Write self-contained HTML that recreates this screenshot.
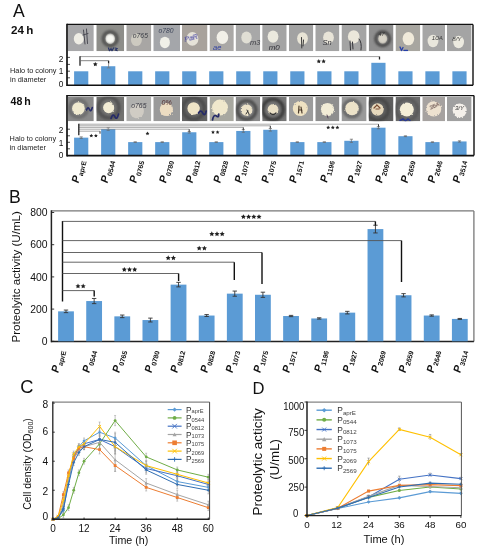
<!DOCTYPE html>
<html><head><meta charset="utf-8"><style>
html,body{margin:0;padding:0;background:#fff;}
svg{display:block;font-family:"Liberation Sans", sans-serif;will-change:transform;}
</style></head><body>
<svg xmlns="http://www.w3.org/2000/svg" width="484" height="550" viewBox="0 0 484 550">
<defs>
<filter id="gblur" x="0" y="0" width="484" height="550" filterUnits="userSpaceOnUse"><feConvolveMatrix order="3" kernelMatrix="1 2 1 2 4 2 1 2 1" divisor="16" edgeMode="duplicate"/></filter>
<filter id="blur05" x="-50%" y="-50%" width="200%" height="200%"><feGaussianBlur stdDeviation="0.35"/></filter>
<filter id="blur1" x="-50%" y="-50%" width="200%" height="200%"><feGaussianBlur stdDeviation="0.6"/></filter>
<filter id="rough" x="-50%" y="-50%" width="200%" height="200%"><feTurbulence type="fractalNoise" baseFrequency="0.7" numOctaves="1" seed="3" result="n"/><feDisplacementMap in="SourceGraphic" in2="n" scale="2.6" xChannelSelector="R" yChannelSelector="G" result="d"/><feGaussianBlur in="d" stdDeviation="0.45"/></filter>
<filter id="blur12" x="-50%" y="-50%" width="200%" height="200%"><feGaussianBlur stdDeviation="1.1"/></filter>
<filter id="blur2" x="-50%" y="-50%" width="200%" height="200%"><feGaussianBlur stdDeviation="1.6"/></filter>
</defs>
<rect width="484" height="550" fill="#fff"/>
<text x="12.90" y="16.60" font-size="17.6" text-anchor="start" font-weight="normal" font-style="normal" fill="#111" >A</text>
<text x="11.00" y="33.60" font-size="11.6" text-anchor="start" font-weight="bold" font-style="normal" fill="#111" word-spacing="-0.9">24 h</text>
<text x="10.60" y="104.90" font-size="10.6" text-anchor="start" font-weight="bold" font-style="normal" fill="#111" word-spacing="-1.0">48 h</text>
<clipPath id="ca0"><rect x="68.00" y="25.0" width="25.80" height="26.20"/></clipPath>
<g clip-path="url(#ca0)">
<rect x="68.00" y="25.00" width="25.80" height="26.20" fill="#a8a8aa" />
<ellipse cx="78.80" cy="38.70" rx="5.0" ry="5.75" fill="#eeece4" filter="url(#blur1)"/>
<path d="M83.5,30 L85,44 M86.5,29 L87.5,43.5 M83,35 L88,33.5" fill="none" stroke="#4a4a52" stroke-width="1.0" stroke-linecap="round" filter="url(#blur05)"/>
</g>
<clipPath id="ca1"><rect x="96.30" y="25.0" width="27.90" height="26.20"/></clipPath>
<g clip-path="url(#ca1)">
<rect x="96.30" y="25.00" width="27.90" height="26.20" fill="#8e8e8a" />
<ellipse cx="110.20" cy="38.70" rx="4.8" ry="5.52" fill="#f8f8f2" filter="url(#blur1)"/>
<circle cx="110.20" cy="38.70" r="7.0" fill="none" stroke="#555553" stroke-width="3.4" filter="url(#blur12)"/>
<path d="M108.5,48 L109.5,51 L111,48.5 L112,51 L113.5,48 M115,48 L117,48.5 L115.5,50 L117.5,51" fill="none" stroke="#2a3566" stroke-width="1.2" stroke-linecap="round" filter="url(#blur05)"/>
</g>
<clipPath id="ca2"><rect x="126.30" y="25.0" width="25.00" height="26.20"/></clipPath>
<g clip-path="url(#ca2)">
<rect x="126.30" y="25.00" width="25.00" height="26.20" fill="#a8a6a4" />
<ellipse cx="136.40" cy="39.80" rx="5.5" ry="6.32" fill="#cdcac0" filter="url(#blur1)"/>
<text x="132.8" y="37.5" font-size="6.8" fill="#3e4048" font-family="Liberation Sans" font-style="italic" font-weight="normal" transform="rotate(0 132.8 37.5)" filter="url(#blur05)">o765</text>
</g>
<clipPath id="ca3"><rect x="153.30" y="25.0" width="26.70" height="26.20"/></clipPath>
<g clip-path="url(#ca3)">
<rect x="153.30" y="25.00" width="26.70" height="26.20" fill="#a4a6aa" />
<ellipse cx="164.90" cy="42.40" rx="5.0" ry="5.75" fill="#f0f0e8" filter="url(#blur1)"/>
<text x="158.4" y="32.5" font-size="6.8" fill="#3c4458" font-family="Liberation Sans" font-style="italic" font-weight="normal" transform="rotate(0 158.4 32.5)" filter="url(#blur05)">o780</text>
</g>
<clipPath id="ca4"><rect x="182.00" y="25.0" width="25.50" height="26.20"/></clipPath>
<g clip-path="url(#ca4)">
<rect x="182.00" y="25.00" width="25.50" height="26.20" fill="#a8a29c" />
<ellipse cx="192.40" cy="38.90" rx="6.0" ry="6.90" fill="#e6e2d8" filter="url(#blur1)"/>
<text x="185.3" y="42.5" font-size="7.0" fill="#30309a" font-family="Liberation Sans" font-style="italic" font-weight="normal" transform="rotate(-15 185.3 42.5)" filter="url(#blur05)">PaR</text>
</g>
<clipPath id="ca5"><rect x="209.50" y="25.0" width="24.30" height="26.20"/></clipPath>
<g clip-path="url(#ca5)">
<rect x="209.50" y="25.00" width="24.30" height="26.20" fill="#aaa8a6" />
<ellipse cx="222.40" cy="37.40" rx="5.8" ry="6.67" fill="#f2f0e8" filter="url(#blur1)"/>
<text x="213" y="50.3" font-size="7.5" fill="#3040a0" font-family="Liberation Sans" font-style="italic" font-weight="normal" transform="rotate(0 213 50.3)" filter="url(#blur05)">ae</text>
</g>
<clipPath id="ca6"><rect x="235.60" y="25.0" width="24.60" height="26.20"/></clipPath>
<g clip-path="url(#ca6)">
<rect x="235.60" y="25.00" width="24.60" height="26.20" fill="#a8a8a8" />
<ellipse cx="246.50" cy="37.40" rx="5.2" ry="5.98" fill="#e0ded4" filter="url(#blur1)"/>
<text x="250" y="45" font-size="7.5" fill="#3a3a40" font-family="Liberation Sans" font-style="italic" font-weight="normal" transform="rotate(0 250 45)" filter="url(#blur05)">m3</text>
</g>
<clipPath id="ca7"><rect x="262.20" y="25.0" width="24.50" height="26.20"/></clipPath>
<g clip-path="url(#ca7)">
<rect x="262.20" y="25.00" width="24.50" height="26.20" fill="#a4a4a4" />
<ellipse cx="273.00" cy="36.60" rx="5.4" ry="6.21" fill="#ebe9de" filter="url(#blur1)"/>
<text x="268.7" y="49.8" font-size="8.0" fill="#303036" font-family="Liberation Sans" font-style="italic" font-weight="normal" transform="rotate(0 268.7 49.8)" filter="url(#blur05)">m0</text>
</g>
<clipPath id="ca8"><rect x="288.90" y="25.0" width="24.40" height="26.20"/></clipPath>
<g clip-path="url(#ca8)">
<rect x="288.90" y="25.00" width="24.40" height="26.20" fill="#a2a2a2" />
<ellipse cx="302.50" cy="38.50" rx="5.4" ry="6.21" fill="#e8e4d6" filter="url(#blur1)"/>
<path d="M301.5,37.5 L301.8,48 M303.5,40 L303,46" fill="none" stroke="#3a3a3a" stroke-width="1.0" stroke-linecap="round" filter="url(#blur05)"/>
</g>
<clipPath id="ca9"><rect x="315.30" y="25.0" width="24.10" height="26.20"/></clipPath>
<g clip-path="url(#ca9)">
<rect x="315.30" y="25.00" width="24.10" height="26.20" fill="#a4a4a4" />
<ellipse cx="328.50" cy="37.60" rx="5.4" ry="6.21" fill="#e8e4d8" filter="url(#blur1)"/>
<text x="322.5" y="45.3" font-size="7.5" fill="#333338" font-family="Liberation Sans" font-style="italic" font-weight="normal" transform="rotate(0 322.5 45.3)" filter="url(#blur05)">Sn</text>
</g>
<clipPath id="ca10"><rect x="341.50" y="25.0" width="25.10" height="26.20"/></clipPath>
<g clip-path="url(#ca10)">
<rect x="341.50" y="25.00" width="25.10" height="26.20" fill="#a4a4a4" />
<ellipse cx="353.70" cy="36.80" rx="5.8" ry="6.67" fill="#ebe7da" filter="url(#blur1)"/>
<path d="M350,41 L350.5,50 M352.5,42 L353,49 M359,39 Q362,42 361,50" fill="none" stroke="#333338" stroke-width="1.0" stroke-linecap="round" filter="url(#blur05)"/>
</g>
<clipPath id="ca11"><rect x="368.70" y="25.0" width="24.80" height="26.20"/></clipPath>
<g clip-path="url(#ca11)">
<rect x="368.70" y="25.00" width="24.80" height="26.20" fill="#8e8e8e" />
<ellipse cx="382.70" cy="38.70" rx="4.5" ry="5.17" fill="#d8d4c8" filter="url(#blur1)"/>
<circle cx="382.70" cy="38.70" r="7.0" fill="none" stroke="#4a4a4a" stroke-width="3.0" filter="url(#blur12)"/>
<text x="378.5" y="36" font-size="5.5" fill="#333" font-family="Liberation Sans" font-style="italic" font-weight="normal" transform="rotate(0 378.5 36)" filter="url(#blur05)">47</text>
</g>
<clipPath id="ca12"><rect x="395.50" y="25.0" width="24.80" height="26.20"/></clipPath>
<g clip-path="url(#ca12)">
<rect x="395.50" y="25.00" width="24.80" height="26.20" fill="#a8a6a0" />
<ellipse cx="408.40" cy="38.70" rx="5.8" ry="6.67" fill="#f0eada" filter="url(#blur1)"/>
<path d="M400,47 L401.5,50.5 L403,47.5 M404,50.5 L407.5,50.5" fill="none" stroke="#2840a8" stroke-width="1.3" stroke-linecap="round" filter="url(#blur05)"/>
</g>
<clipPath id="ca13"><rect x="422.30" y="25.0" width="22.70" height="26.20"/></clipPath>
<g clip-path="url(#ca13)">
<rect x="422.30" y="25.00" width="22.70" height="26.20" fill="#a6a6a6" />
<ellipse cx="433.00" cy="41.00" rx="5.4" ry="6.21" fill="#e8e6dc" filter="url(#blur1)"/>
<text x="431.8" y="39.5" font-size="6.2" fill="#383838" font-family="Liberation Sans" font-style="italic" font-weight="normal" transform="rotate(0 431.8 39.5)" filter="url(#blur05)">10A</text>
</g>
<clipPath id="ca14"><rect x="446.90" y="25.0" width="24.70" height="26.20"/></clipPath>
<g clip-path="url(#ca14)">
<rect x="446.90" y="25.00" width="24.70" height="26.20" fill="#a4a4a4" />
<ellipse cx="458.60" cy="42.00" rx="5.4" ry="6.21" fill="#eceae0" filter="url(#blur1)"/>
<text x="452.2" y="40.8" font-size="6.2" fill="#383838" font-family="Liberation Sans" font-style="italic" font-weight="normal" transform="rotate(0 452.2 40.8)" filter="url(#blur05)">8/Y</text>
</g>
<rect x="74.10" y="71.30" width="14.20" height="13.70" fill="#5b9bd5" />
<rect x="101.12" y="66.23" width="14.20" height="18.77" fill="#5b9bd5" />
<rect x="128.14" y="71.30" width="14.20" height="13.70" fill="#5b9bd5" />
<rect x="155.16" y="71.30" width="14.20" height="13.70" fill="#5b9bd5" />
<rect x="182.18" y="71.30" width="14.20" height="13.70" fill="#5b9bd5" />
<rect x="209.20" y="71.30" width="14.20" height="13.70" fill="#5b9bd5" />
<rect x="236.22" y="71.30" width="14.20" height="13.70" fill="#5b9bd5" />
<rect x="263.24" y="71.30" width="14.20" height="13.70" fill="#5b9bd5" />
<rect x="290.26" y="71.30" width="14.20" height="13.70" fill="#5b9bd5" />
<rect x="317.28" y="71.30" width="14.20" height="13.70" fill="#5b9bd5" />
<rect x="344.30" y="71.30" width="14.20" height="13.70" fill="#5b9bd5" />
<rect x="371.32" y="62.81" width="14.20" height="22.19" fill="#5b9bd5" />
<rect x="398.34" y="71.30" width="14.20" height="13.70" fill="#5b9bd5" />
<rect x="425.36" y="71.30" width="14.20" height="13.70" fill="#5b9bd5" />
<rect x="452.38" y="71.30" width="14.20" height="13.70" fill="#5b9bd5" />
<line x1="67.00" y1="57.40" x2="70.00" y2="57.40" stroke="#222" stroke-width="0.8"/>
<line x1="67.00" y1="64.40" x2="70.00" y2="64.40" stroke="#222" stroke-width="0.8"/>
<line x1="67.00" y1="71.20" x2="70.00" y2="71.20" stroke="#222" stroke-width="0.8"/>
<line x1="67.00" y1="77.80" x2="70.00" y2="77.80" stroke="#222" stroke-width="0.8"/>
<line x1="67.00" y1="24.40" x2="473.00" y2="24.40" stroke="#111" stroke-width="1.3"/>
<line x1="473.00" y1="24.40" x2="473.00" y2="85.30" stroke="#111" stroke-width="1.4"/>
<line x1="67.00" y1="23.80" x2="67.00" y2="86.10" stroke="#111" stroke-width="1.7"/>
<line x1="67.00" y1="85.30" x2="473.00" y2="85.30" stroke="#111" stroke-width="1.6"/>
<text x="63.30" y="61.80" font-size="8.3" text-anchor="end" font-weight="normal" font-style="normal" fill="#111" >2</text>
<text x="63.30" y="74.00" font-size="8.3" text-anchor="end" font-weight="normal" font-style="normal" fill="#111" >1</text>
<text x="63.30" y="86.60" font-size="8.3" text-anchor="end" font-weight="normal" font-style="normal" fill="#111" >0</text>
<text transform="translate(10.00,72.90) scale(0.955,1)" font-size="7.7" text-anchor="start" font-weight="normal" font-style="normal" fill="#222" >Halo to colony</text>
<text transform="translate(10.00,81.70) scale(0.955,1)" font-size="7.7" text-anchor="start" font-weight="normal" font-style="normal" fill="#222" >in diameter</text>
<line x1="80.00" y1="56.60" x2="379.50" y2="56.60" stroke="#888" stroke-width="0.8"/>
<line x1="379.50" y1="56.60" x2="379.50" y2="59.50" stroke="#222" stroke-width="1.3"/>
<line x1="80.00" y1="56.20" x2="80.00" y2="65.70" stroke="#222" stroke-width="1.3"/>
<line x1="80.00" y1="60.70" x2="108.60" y2="60.70" stroke="#666" stroke-width="0.8"/>
<line x1="108.60" y1="60.70" x2="108.60" y2="63.50" stroke="#222" stroke-width="1.3"/>
<line x1="108.60" y1="63.50" x2="108.60" y2="67.90" stroke="#777" stroke-width="0.8"/>
<line x1="106.80" y1="67.90" x2="110.40" y2="67.90" stroke="#777" stroke-width="0.7"/>
<polygon points="95.30,61.90 96.01,63.33 97.58,63.56 96.44,64.67 96.71,66.24 95.30,65.50 93.89,66.24 94.16,64.67 93.02,63.56 94.59,63.33" fill="#222"/>
<polygon points="318.80,59.10 319.48,60.47 320.99,60.69 319.89,61.76 320.15,63.26 318.80,62.55 317.45,63.26 317.71,61.76 316.61,60.69 318.12,60.47" fill="#222"/>
<polygon points="323.60,59.10 324.28,60.47 325.79,60.69 324.69,61.76 324.95,63.26 323.60,62.55 322.25,63.26 322.51,61.76 321.41,60.69 322.92,60.47" fill="#222"/>
<clipPath id="cb0"><rect x="68.00" y="96.7" width="25.80" height="24.60"/></clipPath>
<g clip-path="url(#cb0)">
<rect x="68.00" y="96.70" width="25.80" height="24.60" fill="#8a8a8a" />
<circle cx="78.40" cy="108.50" r="8.8" fill="none" stroke="#6e6e6e" stroke-width="3.6" filter="url(#blur12)"/>
<ellipse cx="78.40" cy="108.50" rx="6.3" ry="6.30" fill="#f0ead0" filter="url(#rough)"/>
<path d="M86.5,110 Q88,106 89.5,109.5 Q91,112.5 92.3,107.5" fill="none" stroke="#262c68" stroke-width="1.6" stroke-linecap="round" filter="url(#blur05)"/>
</g>
<clipPath id="cb1"><rect x="96.30" y="96.7" width="27.90" height="24.60"/></clipPath>
<g clip-path="url(#cb1)">
<rect x="96.30" y="96.70" width="27.90" height="24.60" fill="#727270" />
<circle cx="108.70" cy="107.60" r="10.3" fill="none" stroke="#525252" stroke-width="3.6" filter="url(#blur12)"/>
<ellipse cx="108.70" cy="107.60" rx="5.6" ry="5.60" fill="#f2ecd4" filter="url(#rough)"/>
<path d="M111,118.5 Q113,112.5 115,117 Q117,120.5 118.5,114" fill="none" stroke="#262c68" stroke-width="1.7" stroke-linecap="round" filter="url(#blur05)"/>
</g>
<clipPath id="cb2"><rect x="126.30" y="96.7" width="25.00" height="24.60"/></clipPath>
<g clip-path="url(#cb2)">
<rect x="126.30" y="96.70" width="25.00" height="24.60" fill="#b0b0ae" />
<ellipse cx="136.90" cy="111.30" rx="7.0" ry="7.00" fill="#d0ccc4" filter="url(#rough)"/>
<text x="131.3" y="107.5" font-size="6.8" fill="#3a3a44" font-family="Liberation Sans" font-style="italic" font-weight="normal" transform="rotate(0 131.3 107.5)" filter="url(#blur05)">o765</text>
</g>
<clipPath id="cb3"><rect x="153.30" y="96.7" width="26.70" height="24.60"/></clipPath>
<g clip-path="url(#cb3)">
<rect x="153.30" y="96.70" width="26.70" height="24.60" fill="#9a9a9a" />
<ellipse cx="166.40" cy="109.50" rx="6.6" ry="6.60" fill="#ecdcc2" filter="url(#rough)"/>
<text x="161.5" y="104.5" font-size="7" fill="#553030" font-family="Liberation Sans" font-style="italic" font-weight="normal" transform="rotate(0 161.5 104.5)" filter="url(#blur05)">0%</text>
</g>
<clipPath id="cb4"><rect x="182.00" y="96.7" width="25.50" height="24.60"/></clipPath>
<g clip-path="url(#cb4)">
<rect x="182.00" y="96.70" width="25.50" height="24.60" fill="#646464" />
<circle cx="193.60" cy="108.50" r="10.8" fill="none" stroke="#4e4e4e" stroke-width="3.6" filter="url(#blur12)"/>
<ellipse cx="193.60" cy="108.50" rx="6.2" ry="6.20" fill="#efe4c6" filter="url(#rough)"/>
<path d="M198.5,113 Q201,109 203,113.5 Q205,116.5 206.2,111" fill="none" stroke="#262c68" stroke-width="1.7" stroke-linecap="round" filter="url(#blur05)"/>
</g>
<clipPath id="cb5"><rect x="209.50" y="96.7" width="24.30" height="24.60"/></clipPath>
<g clip-path="url(#cb5)">
<rect x="209.50" y="96.70" width="24.30" height="24.60" fill="#a8a8a0" />
<ellipse cx="220.00" cy="107.60" rx="8.0" ry="8.00" fill="#f0e8cc" filter="url(#rough)"/>
<path d="M212.5,120 Q213.5,114 216.5,116 Q219,118 218.8,114" fill="none" stroke="#262c68" stroke-width="1.7" stroke-linecap="round" filter="url(#blur05)"/>
</g>
<clipPath id="cb6"><rect x="235.60" y="96.7" width="24.60" height="24.60"/></clipPath>
<g clip-path="url(#cb6)">
<rect x="235.60" y="96.70" width="24.60" height="24.60" fill="#8a8a8a" />
<circle cx="246.60" cy="110.00" r="9.3" fill="none" stroke="#505050" stroke-width="3.6" filter="url(#blur12)"/>
<ellipse cx="246.60" cy="110.00" rx="5.8" ry="5.80" fill="#ece2c8" filter="url(#rough)"/>
<path d="M247,110 L249,114 M248,111 L246,114" fill="none" stroke="#333" stroke-width="1.0" stroke-linecap="round" filter="url(#blur05)"/>
</g>
<clipPath id="cb7"><rect x="262.20" y="96.7" width="24.50" height="24.60"/></clipPath>
<g clip-path="url(#cb7)">
<rect x="262.20" y="96.70" width="24.50" height="24.60" fill="#767676" />
<circle cx="273.00" cy="109.50" r="10.3" fill="none" stroke="#3e3e3e" stroke-width="3.6" filter="url(#blur12)"/>
<ellipse cx="273.00" cy="109.50" rx="5.4" ry="5.40" fill="#eae0c6" filter="url(#rough)"/>
<path d="M270,113 Q273,116 276,113" fill="none" stroke="#333" stroke-width="1.2" stroke-linecap="round" filter="url(#blur05)"/>
</g>
<clipPath id="cb8"><rect x="288.90" y="96.7" width="24.40" height="24.60"/></clipPath>
<g clip-path="url(#cb8)">
<rect x="288.90" y="96.70" width="24.40" height="24.60" fill="#9c9c9c" />
<ellipse cx="300.30" cy="108.50" rx="7.5" ry="7.50" fill="#efe2c2" filter="url(#rough)"/>
<path d="M299,106 L298.5,113 M301,107 L302,113 M299,110 L302,110" fill="none" stroke="#4a3a2a" stroke-width="1.2" stroke-linecap="round" filter="url(#blur05)"/>
</g>
<clipPath id="cb9"><rect x="315.30" y="96.7" width="24.10" height="24.60"/></clipPath>
<g clip-path="url(#cb9)">
<rect x="315.30" y="96.70" width="24.10" height="24.60" fill="#8e8e8e" />
<ellipse cx="327.50" cy="109.50" rx="6.6" ry="6.60" fill="#f2ecd6" filter="url(#rough)"/>
<path d="M327,115 L328,118" fill="none" stroke="#5a4a5a" stroke-width="1.0" stroke-linecap="round" filter="url(#blur05)"/>
</g>
<clipPath id="cb10"><rect x="341.50" y="96.7" width="25.10" height="24.60"/></clipPath>
<g clip-path="url(#cb10)">
<rect x="341.50" y="96.70" width="25.10" height="24.60" fill="#9a9a9a" />
<circle cx="352.00" cy="108.50" r="8.3" fill="none" stroke="#6a6a6a" stroke-width="3.6" filter="url(#blur12)"/>
<ellipse cx="352.00" cy="108.50" rx="6.8" ry="6.80" fill="#ece2c8" filter="url(#rough)"/>
<path d="M350,113 L354,113" fill="none" stroke="#555" stroke-width="1.0" stroke-linecap="round" filter="url(#blur05)"/>
</g>
<clipPath id="cb11"><rect x="368.70" y="96.7" width="24.80" height="24.60"/></clipPath>
<g clip-path="url(#cb11)">
<rect x="368.70" y="96.70" width="24.80" height="24.60" fill="#5e5e5e" />
<circle cx="377.50" cy="109.50" r="10.8" fill="none" stroke="#484848" stroke-width="3.6" filter="url(#blur12)"/>
<ellipse cx="377.50" cy="109.50" rx="6.2" ry="6.20" fill="#e6d8bc" filter="url(#rough)"/>
<path d="M374,108 L377,105 L380,108 M376,109 L379,109" fill="none" stroke="#7a4a30" stroke-width="1.2" stroke-linecap="round" filter="url(#blur05)"/>
</g>
<clipPath id="cb12"><rect x="395.50" y="96.7" width="24.80" height="24.60"/></clipPath>
<g clip-path="url(#cb12)">
<rect x="395.50" y="96.70" width="24.80" height="24.60" fill="#6c6c6c" />
<circle cx="406.80" cy="109.60" r="10.8" fill="none" stroke="#5a5a5a" stroke-width="3.6" filter="url(#blur12)"/>
<ellipse cx="406.80" cy="109.60" rx="7.0" ry="7.00" fill="#f4eed8" filter="url(#rough)"/>
<path d="M400,120.5 L403,119 L405.5,121 L408,119 L410,120.5" fill="none" stroke="#2a3a90" stroke-width="1.5" stroke-linecap="round" filter="url(#blur05)"/>
</g>
<clipPath id="cb13"><rect x="422.30" y="96.7" width="22.70" height="24.60"/></clipPath>
<g clip-path="url(#cb13)">
<rect x="422.30" y="96.70" width="22.70" height="24.60" fill="#a6a2a0" />
<ellipse cx="433.70" cy="108.80" rx="7.6" ry="7.60" fill="#eee2d0" filter="url(#rough)"/>
<text x="430.2" y="109.5" font-size="6.0" fill="#4a3030" font-family="Liberation Sans" font-style="italic" font-weight="normal" transform="rotate(-25 430.2 109.5)" filter="url(#blur05)">36A</text>
</g>
<clipPath id="cb14"><rect x="446.90" y="96.7" width="24.70" height="24.60"/></clipPath>
<g clip-path="url(#cb14)">
<rect x="446.90" y="96.70" width="24.70" height="24.60" fill="#a0a0a0" />
<ellipse cx="459.70" cy="110.50" rx="7.0" ry="7.00" fill="#f4f0ea" filter="url(#rough)"/>
<text x="455" y="109.5" font-size="6.0" fill="#383838" font-family="Liberation Sans" font-style="italic" font-weight="normal" transform="rotate(0 455 109.5)" filter="url(#blur05)">3/Y</text>
</g>
<rect x="74.10" y="137.65" width="14.20" height="17.55" fill="#5b9bd5" />
<line x1="81.20" y1="136.86" x2="81.20" y2="138.43" stroke="#666" stroke-width="0.7"/>
<line x1="79.60" y1="136.86" x2="82.80" y2="136.86" stroke="#666" stroke-width="0.7"/>
<line x1="79.60" y1="138.43" x2="82.80" y2="138.43" stroke="#666" stroke-width="0.7"/>
<rect x="101.12" y="129.00" width="14.20" height="26.20" fill="#5b9bd5" />
<line x1="108.22" y1="127.69" x2="108.22" y2="130.31" stroke="#666" stroke-width="0.7"/>
<line x1="106.62" y1="127.69" x2="109.82" y2="127.69" stroke="#666" stroke-width="0.7"/>
<line x1="106.62" y1="130.31" x2="109.82" y2="130.31" stroke="#666" stroke-width="0.7"/>
<rect x="128.14" y="142.10" width="14.20" height="13.10" fill="#5b9bd5" />
<line x1="135.24" y1="141.84" x2="135.24" y2="142.36" stroke="#666" stroke-width="0.7"/>
<line x1="133.64" y1="141.84" x2="136.84" y2="141.84" stroke="#666" stroke-width="0.7"/>
<line x1="133.64" y1="142.36" x2="136.84" y2="142.36" stroke="#666" stroke-width="0.7"/>
<rect x="155.16" y="142.10" width="14.20" height="13.10" fill="#5b9bd5" />
<line x1="162.26" y1="141.84" x2="162.26" y2="142.36" stroke="#666" stroke-width="0.7"/>
<line x1="160.66" y1="141.84" x2="163.86" y2="141.84" stroke="#666" stroke-width="0.7"/>
<line x1="160.66" y1="142.36" x2="163.86" y2="142.36" stroke="#666" stroke-width="0.7"/>
<rect x="182.18" y="132.27" width="14.20" height="22.93" fill="#5b9bd5" />
<line x1="189.28" y1="131.49" x2="189.28" y2="133.06" stroke="#666" stroke-width="0.7"/>
<line x1="187.68" y1="131.49" x2="190.88" y2="131.49" stroke="#666" stroke-width="0.7"/>
<line x1="187.68" y1="133.06" x2="190.88" y2="133.06" stroke="#666" stroke-width="0.7"/>
<rect x="209.20" y="142.10" width="14.20" height="13.10" fill="#5b9bd5" />
<line x1="216.30" y1="141.84" x2="216.30" y2="142.36" stroke="#666" stroke-width="0.7"/>
<line x1="214.70" y1="141.84" x2="217.90" y2="141.84" stroke="#666" stroke-width="0.7"/>
<line x1="214.70" y1="142.36" x2="217.90" y2="142.36" stroke="#666" stroke-width="0.7"/>
<rect x="236.22" y="130.96" width="14.20" height="24.23" fill="#5b9bd5" />
<line x1="243.32" y1="129.65" x2="243.32" y2="132.27" stroke="#666" stroke-width="0.7"/>
<line x1="241.72" y1="129.65" x2="244.92" y2="129.65" stroke="#666" stroke-width="0.7"/>
<line x1="241.72" y1="132.27" x2="244.92" y2="132.27" stroke="#666" stroke-width="0.7"/>
<rect x="263.24" y="129.79" width="14.20" height="25.41" fill="#5b9bd5" />
<line x1="270.34" y1="128.48" x2="270.34" y2="131.10" stroke="#666" stroke-width="0.7"/>
<line x1="268.74" y1="128.48" x2="271.94" y2="128.48" stroke="#666" stroke-width="0.7"/>
<line x1="268.74" y1="131.10" x2="271.94" y2="131.10" stroke="#666" stroke-width="0.7"/>
<rect x="290.26" y="142.10" width="14.20" height="13.10" fill="#5b9bd5" />
<line x1="297.36" y1="141.84" x2="297.36" y2="142.36" stroke="#666" stroke-width="0.7"/>
<line x1="295.76" y1="141.84" x2="298.96" y2="141.84" stroke="#666" stroke-width="0.7"/>
<line x1="295.76" y1="142.36" x2="298.96" y2="142.36" stroke="#666" stroke-width="0.7"/>
<rect x="317.28" y="142.10" width="14.20" height="13.10" fill="#5b9bd5" />
<line x1="324.38" y1="141.84" x2="324.38" y2="142.36" stroke="#666" stroke-width="0.7"/>
<line x1="322.78" y1="141.84" x2="325.98" y2="141.84" stroke="#666" stroke-width="0.7"/>
<line x1="322.78" y1="142.36" x2="325.98" y2="142.36" stroke="#666" stroke-width="0.7"/>
<rect x="344.30" y="140.79" width="14.20" height="14.41" fill="#5b9bd5" />
<line x1="351.40" y1="139.22" x2="351.40" y2="142.36" stroke="#666" stroke-width="0.7"/>
<line x1="349.80" y1="139.22" x2="353.00" y2="139.22" stroke="#666" stroke-width="0.7"/>
<line x1="349.80" y1="142.36" x2="353.00" y2="142.36" stroke="#666" stroke-width="0.7"/>
<rect x="371.32" y="127.69" width="14.20" height="27.51" fill="#5b9bd5" />
<line x1="378.42" y1="126.64" x2="378.42" y2="128.74" stroke="#666" stroke-width="0.7"/>
<line x1="376.82" y1="126.64" x2="380.02" y2="126.64" stroke="#666" stroke-width="0.7"/>
<line x1="376.82" y1="128.74" x2="380.02" y2="128.74" stroke="#666" stroke-width="0.7"/>
<rect x="398.34" y="136.20" width="14.20" height="18.99" fill="#5b9bd5" />
<line x1="405.44" y1="135.81" x2="405.44" y2="136.60" stroke="#666" stroke-width="0.7"/>
<line x1="403.84" y1="135.81" x2="407.04" y2="135.81" stroke="#666" stroke-width="0.7"/>
<line x1="403.84" y1="136.60" x2="407.04" y2="136.60" stroke="#666" stroke-width="0.7"/>
<rect x="425.36" y="142.10" width="14.20" height="13.10" fill="#5b9bd5" />
<line x1="432.46" y1="141.84" x2="432.46" y2="142.36" stroke="#666" stroke-width="0.7"/>
<line x1="430.86" y1="141.84" x2="434.06" y2="141.84" stroke="#666" stroke-width="0.7"/>
<line x1="430.86" y1="142.36" x2="434.06" y2="142.36" stroke="#666" stroke-width="0.7"/>
<rect x="452.38" y="141.44" width="14.20" height="13.76" fill="#5b9bd5" />
<line x1="459.48" y1="140.79" x2="459.48" y2="142.10" stroke="#666" stroke-width="0.7"/>
<line x1="457.88" y1="140.79" x2="461.08" y2="140.79" stroke="#666" stroke-width="0.7"/>
<line x1="457.88" y1="142.10" x2="461.08" y2="142.10" stroke="#666" stroke-width="0.7"/>
<line x1="67.00" y1="129.20" x2="70.00" y2="129.20" stroke="#222" stroke-width="0.8"/>
<line x1="67.00" y1="135.80" x2="70.00" y2="135.80" stroke="#222" stroke-width="0.8"/>
<line x1="67.00" y1="142.30" x2="70.00" y2="142.30" stroke="#222" stroke-width="0.8"/>
<line x1="67.00" y1="148.80" x2="70.00" y2="148.80" stroke="#222" stroke-width="0.8"/>
<line x1="67.00" y1="95.60" x2="474.00" y2="95.60" stroke="#111" stroke-width="1.3"/>
<line x1="474.00" y1="95.60" x2="474.00" y2="155.60" stroke="#111" stroke-width="1.4"/>
<line x1="67.00" y1="95.00" x2="67.00" y2="156.40" stroke="#111" stroke-width="1.7"/>
<line x1="67.00" y1="155.60" x2="474.00" y2="155.60" stroke="#111" stroke-width="1.6"/>
<text x="63.30" y="132.60" font-size="8.3" text-anchor="end" font-weight="normal" font-style="normal" fill="#111" >2</text>
<text x="63.30" y="145.60" font-size="8.3" text-anchor="end" font-weight="normal" font-style="normal" fill="#111" >1</text>
<text x="63.30" y="157.70" font-size="8.3" text-anchor="end" font-weight="normal" font-style="normal" fill="#111" >0</text>
<text transform="translate(9.60,141.30) scale(0.955,1)" font-size="7.7" text-anchor="start" font-weight="normal" font-style="normal" fill="#222" >Halo to colony</text>
<text transform="translate(9.60,150.30) scale(0.955,1)" font-size="7.7" text-anchor="start" font-weight="normal" font-style="normal" fill="#222" >in diameter</text>
<line x1="78.80" y1="124.20" x2="378.50" y2="124.20" stroke="#888" stroke-width="0.7"/>
<line x1="378.50" y1="124.20" x2="378.50" y2="126.70" stroke="#333" stroke-width="1.0"/>
<line x1="78.80" y1="125.80" x2="270.30" y2="125.80" stroke="#888" stroke-width="0.7"/>
<line x1="270.30" y1="125.80" x2="270.30" y2="128.30" stroke="#333" stroke-width="1.0"/>
<line x1="78.80" y1="127.40" x2="243.30" y2="127.40" stroke="#888" stroke-width="0.7"/>
<line x1="243.30" y1="127.40" x2="243.30" y2="129.90" stroke="#333" stroke-width="1.0"/>
<line x1="78.80" y1="129.20" x2="189.20" y2="129.20" stroke="#888" stroke-width="0.7"/>
<line x1="189.20" y1="129.20" x2="189.20" y2="131.70" stroke="#333" stroke-width="1.0"/>
<line x1="78.80" y1="131.20" x2="100.00" y2="131.20" stroke="#888" stroke-width="0.7"/>
<line x1="100.00" y1="131.20" x2="100.00" y2="133.70" stroke="#333" stroke-width="1.0"/>
<line x1="78.80" y1="123.80" x2="78.80" y2="135.20" stroke="#222" stroke-width="1.3"/>
<polygon points="91.30,133.70 91.89,134.89 93.20,135.08 92.25,136.01 92.48,137.32 91.30,136.70 90.12,137.32 90.35,136.01 89.40,135.08 90.71,134.89" fill="#222"/>
<polygon points="95.90,133.70 96.49,134.89 97.80,135.08 96.85,136.01 97.08,137.32 95.90,136.70 94.72,137.32 94.95,136.01 94.00,135.08 95.31,134.89" fill="#222"/>
<polygon points="147.50,131.60 148.09,132.79 149.40,132.98 148.45,133.91 148.68,135.22 147.50,134.60 146.32,135.22 146.55,133.91 145.60,132.98 146.91,132.79" fill="#222"/>
<polygon points="213.00,130.20 213.59,131.39 214.90,131.58 213.95,132.51 214.18,133.82 213.00,133.20 211.82,133.82 212.05,132.51 211.10,131.58 212.41,131.39" fill="#222"/>
<polygon points="217.60,130.20 218.19,131.39 219.50,131.58 218.55,132.51 218.78,133.82 217.60,133.20 216.42,133.82 216.65,132.51 215.70,131.58 217.01,131.39" fill="#222"/>
<polygon points="328.20,125.60 328.79,126.79 330.10,126.98 329.15,127.91 329.38,129.22 328.20,128.60 327.02,129.22 327.25,127.91 326.30,126.98 327.61,126.79" fill="#222"/>
<polygon points="332.80,125.60 333.39,126.79 334.70,126.98 333.75,127.91 333.98,129.22 332.80,128.60 331.62,129.22 331.85,127.91 330.90,126.98 332.21,126.79" fill="#222"/>
<polygon points="337.40,125.60 337.99,126.79 339.30,126.98 338.35,127.91 338.58,129.22 337.40,128.60 336.22,129.22 336.45,127.91 335.50,126.98 336.81,126.79" fill="#222"/>
<text transform="translate(84.00,161.00) rotate(-76)" font-size="10.8" font-weight="bold" font-style="italic" fill="#111" text-anchor="end" dx="0">P<tspan font-size="6.9" dy="2.6" dx="0.6" font-weight="bold" font-style="normal">aprE</tspan></text>
<text transform="translate(113.00,161.00) rotate(-76)" font-size="10.8" font-weight="bold" font-style="italic" fill="#111" text-anchor="end" dx="0">P<tspan font-size="6.9" dy="2.6" dx="0.6" font-weight="bold" font-style="normal">0544</tspan></text>
<text transform="translate(141.90,161.00) rotate(-76)" font-size="10.8" font-weight="bold" font-style="italic" fill="#111" text-anchor="end" dx="0">P<tspan font-size="6.9" dy="2.6" dx="0.6" font-weight="bold" font-style="normal">0765</tspan></text>
<text transform="translate(171.70,161.00) rotate(-76)" font-size="10.8" font-weight="bold" font-style="italic" fill="#111" text-anchor="end" dx="0">P<tspan font-size="6.9" dy="2.6" dx="0.6" font-weight="bold" font-style="normal">0780</tspan></text>
<text transform="translate(198.00,161.00) rotate(-76)" font-size="10.8" font-weight="bold" font-style="italic" fill="#111" text-anchor="end" dx="0">P<tspan font-size="6.9" dy="2.6" dx="0.6" font-weight="bold" font-style="normal">0812</tspan></text>
<text transform="translate(225.80,161.00) rotate(-76)" font-size="10.8" font-weight="bold" font-style="italic" fill="#111" text-anchor="end" dx="0">P<tspan font-size="6.9" dy="2.6" dx="0.6" font-weight="bold" font-style="normal">0828</tspan></text>
<text transform="translate(247.00,161.00) rotate(-76)" font-size="10.8" font-weight="bold" font-style="italic" fill="#111" text-anchor="end" dx="0">P<tspan font-size="6.9" dy="2.6" dx="0.6" font-weight="bold" font-style="normal">1073</tspan></text>
<text transform="translate(273.80,161.00) rotate(-76)" font-size="10.8" font-weight="bold" font-style="italic" fill="#111" text-anchor="end" dx="0">P<tspan font-size="6.9" dy="2.6" dx="0.6" font-weight="bold" font-style="normal">1075</tspan></text>
<text transform="translate(301.70,161.00) rotate(-76)" font-size="10.8" font-weight="bold" font-style="italic" fill="#111" text-anchor="end" dx="0">P<tspan font-size="6.9" dy="2.6" dx="0.6" font-weight="bold" font-style="normal">1571</tspan></text>
<text transform="translate(332.40,161.00) rotate(-76)" font-size="10.8" font-weight="bold" font-style="italic" fill="#111" text-anchor="end" dx="0">P<tspan font-size="6.9" dy="2.6" dx="0.6" font-weight="bold" font-style="normal">1196</tspan></text>
<text transform="translate(360.00,161.00) rotate(-76)" font-size="10.8" font-weight="bold" font-style="italic" fill="#111" text-anchor="end" dx="0">P<tspan font-size="6.9" dy="2.6" dx="0.6" font-weight="bold" font-style="normal">1927</tspan></text>
<text transform="translate(387.50,161.00) rotate(-76)" font-size="10.8" font-weight="bold" font-style="italic" fill="#111" text-anchor="end" dx="0">P<tspan font-size="6.9" dy="2.6" dx="0.6" font-weight="bold" font-style="normal">2069</tspan></text>
<text transform="translate(413.20,161.00) rotate(-76)" font-size="10.8" font-weight="bold" font-style="italic" fill="#111" text-anchor="end" dx="0">P<tspan font-size="6.9" dy="2.6" dx="0.6" font-weight="bold" font-style="normal">2659</tspan></text>
<text transform="translate(440.20,161.00) rotate(-76)" font-size="10.8" font-weight="bold" font-style="italic" fill="#111" text-anchor="end" dx="0">P<tspan font-size="6.9" dy="2.6" dx="0.6" font-weight="bold" font-style="normal">2646</tspan></text>
<text transform="translate(465.00,161.00) rotate(-76)" font-size="10.8" font-weight="bold" font-style="italic" fill="#111" text-anchor="end" dx="0">P<tspan font-size="6.9" dy="2.6" dx="0.6" font-weight="bold" font-style="normal">3514</tspan></text>
<text x="8.90" y="202.80" font-size="17.6" text-anchor="start" font-weight="normal" font-style="normal" fill="#111" >B</text>
<line x1="51.40" y1="210.90" x2="473.90" y2="210.90" stroke="#777" stroke-width="1.2"/>
<line x1="473.90" y1="210.90" x2="473.90" y2="341.50" stroke="#777" stroke-width="1.3"/>
<line x1="51.40" y1="210.30" x2="51.40" y2="342.30" stroke="#222" stroke-width="1.5"/>
<line x1="51.40" y1="341.50" x2="473.90" y2="341.50" stroke="#222" stroke-width="1.5"/>
<line x1="51.40" y1="341.30" x2="54.20" y2="341.30" stroke="#222" stroke-width="0.9"/>
<text x="47.60" y="345.00" font-size="10.4" text-anchor="end" font-weight="normal" font-style="normal" fill="#111" >0</text>
<line x1="51.40" y1="309.10" x2="54.20" y2="309.10" stroke="#222" stroke-width="0.9"/>
<text x="47.60" y="312.80" font-size="10.4" text-anchor="end" font-weight="normal" font-style="normal" fill="#111" >200</text>
<line x1="51.40" y1="276.90" x2="54.20" y2="276.90" stroke="#222" stroke-width="0.9"/>
<text x="47.60" y="280.60" font-size="10.4" text-anchor="end" font-weight="normal" font-style="normal" fill="#111" >400</text>
<line x1="51.40" y1="244.70" x2="54.20" y2="244.70" stroke="#222" stroke-width="0.9"/>
<text x="47.60" y="248.40" font-size="10.4" text-anchor="end" font-weight="normal" font-style="normal" fill="#111" >600</text>
<line x1="51.40" y1="212.50" x2="54.20" y2="212.50" stroke="#222" stroke-width="0.9"/>
<text x="47.60" y="216.20" font-size="10.4" text-anchor="end" font-weight="normal" font-style="normal" fill="#111" >800</text>
<text transform="translate(20.0,276.8) rotate(-90)" font-size="11.6" text-anchor="middle" fill="#111">Proteolyitc activity (U/mL)</text>
<rect x="58.10" y="311.35" width="15.80" height="29.95" fill="#5b9bd5" />
<line x1="66.00" y1="310.07" x2="66.00" y2="312.64" stroke="#333" stroke-width="0.9"/>
<line x1="63.80" y1="310.07" x2="68.20" y2="310.07" stroke="#333" stroke-width="0.9"/>
<line x1="63.80" y1="312.64" x2="68.20" y2="312.64" stroke="#333" stroke-width="0.9"/>
<rect x="86.23" y="301.05" width="15.80" height="40.25" fill="#5b9bd5" />
<line x1="94.13" y1="298.47" x2="94.13" y2="303.63" stroke="#333" stroke-width="0.9"/>
<line x1="91.93" y1="298.47" x2="96.33" y2="298.47" stroke="#333" stroke-width="0.9"/>
<line x1="91.93" y1="303.63" x2="96.33" y2="303.63" stroke="#333" stroke-width="0.9"/>
<rect x="114.36" y="316.35" width="15.80" height="24.96" fill="#5b9bd5" />
<line x1="122.26" y1="315.06" x2="122.26" y2="317.63" stroke="#333" stroke-width="0.9"/>
<line x1="120.06" y1="315.06" x2="124.46" y2="315.06" stroke="#333" stroke-width="0.9"/>
<line x1="120.06" y1="317.63" x2="124.46" y2="317.63" stroke="#333" stroke-width="0.9"/>
<rect x="142.49" y="320.05" width="15.80" height="21.25" fill="#5b9bd5" />
<line x1="150.39" y1="318.12" x2="150.39" y2="321.98" stroke="#333" stroke-width="0.9"/>
<line x1="148.19" y1="318.12" x2="152.59" y2="318.12" stroke="#333" stroke-width="0.9"/>
<line x1="148.19" y1="321.98" x2="152.59" y2="321.98" stroke="#333" stroke-width="0.9"/>
<rect x="170.62" y="284.63" width="15.80" height="56.67" fill="#5b9bd5" />
<line x1="178.52" y1="282.37" x2="178.52" y2="286.88" stroke="#333" stroke-width="0.9"/>
<line x1="176.32" y1="282.37" x2="180.72" y2="282.37" stroke="#333" stroke-width="0.9"/>
<line x1="176.32" y1="286.88" x2="180.72" y2="286.88" stroke="#333" stroke-width="0.9"/>
<rect x="198.75" y="315.54" width="15.80" height="25.76" fill="#5b9bd5" />
<line x1="206.65" y1="314.57" x2="206.65" y2="316.51" stroke="#333" stroke-width="0.9"/>
<line x1="204.45" y1="314.57" x2="208.85" y2="314.57" stroke="#333" stroke-width="0.9"/>
<line x1="204.45" y1="316.51" x2="208.85" y2="316.51" stroke="#333" stroke-width="0.9"/>
<rect x="226.88" y="293.64" width="15.80" height="47.66" fill="#5b9bd5" />
<line x1="234.78" y1="291.07" x2="234.78" y2="296.22" stroke="#333" stroke-width="0.9"/>
<line x1="232.58" y1="291.07" x2="236.98" y2="291.07" stroke="#333" stroke-width="0.9"/>
<line x1="232.58" y1="296.22" x2="236.98" y2="296.22" stroke="#333" stroke-width="0.9"/>
<rect x="255.01" y="294.77" width="15.80" height="46.53" fill="#5b9bd5" />
<line x1="262.91" y1="292.19" x2="262.91" y2="297.35" stroke="#333" stroke-width="0.9"/>
<line x1="260.71" y1="292.19" x2="265.11" y2="292.19" stroke="#333" stroke-width="0.9"/>
<line x1="260.71" y1="297.35" x2="265.11" y2="297.35" stroke="#333" stroke-width="0.9"/>
<rect x="283.14" y="316.02" width="15.80" height="25.28" fill="#5b9bd5" />
<line x1="291.04" y1="315.38" x2="291.04" y2="316.67" stroke="#333" stroke-width="0.9"/>
<line x1="288.84" y1="315.38" x2="293.24" y2="315.38" stroke="#333" stroke-width="0.9"/>
<line x1="288.84" y1="316.67" x2="293.24" y2="316.67" stroke="#333" stroke-width="0.9"/>
<rect x="311.27" y="318.44" width="15.80" height="22.86" fill="#5b9bd5" />
<line x1="319.17" y1="317.79" x2="319.17" y2="319.08" stroke="#333" stroke-width="0.9"/>
<line x1="316.97" y1="317.79" x2="321.37" y2="317.79" stroke="#333" stroke-width="0.9"/>
<line x1="316.97" y1="319.08" x2="321.37" y2="319.08" stroke="#333" stroke-width="0.9"/>
<rect x="339.40" y="312.64" width="15.80" height="28.66" fill="#5b9bd5" />
<line x1="347.30" y1="311.35" x2="347.30" y2="313.93" stroke="#333" stroke-width="0.9"/>
<line x1="345.10" y1="311.35" x2="349.50" y2="311.35" stroke="#333" stroke-width="0.9"/>
<line x1="345.10" y1="313.93" x2="349.50" y2="313.93" stroke="#333" stroke-width="0.9"/>
<rect x="367.53" y="229.08" width="15.80" height="112.22" fill="#5b9bd5" />
<line x1="375.43" y1="225.22" x2="375.43" y2="232.95" stroke="#333" stroke-width="0.9"/>
<line x1="373.23" y1="225.22" x2="377.63" y2="225.22" stroke="#333" stroke-width="0.9"/>
<line x1="373.23" y1="232.95" x2="377.63" y2="232.95" stroke="#333" stroke-width="0.9"/>
<rect x="395.66" y="295.25" width="15.80" height="46.05" fill="#5b9bd5" />
<line x1="403.56" y1="293.64" x2="403.56" y2="296.86" stroke="#333" stroke-width="0.9"/>
<line x1="401.36" y1="293.64" x2="405.76" y2="293.64" stroke="#333" stroke-width="0.9"/>
<line x1="401.36" y1="296.86" x2="405.76" y2="296.86" stroke="#333" stroke-width="0.9"/>
<rect x="423.79" y="315.54" width="15.80" height="25.76" fill="#5b9bd5" />
<line x1="431.69" y1="314.90" x2="431.69" y2="316.18" stroke="#333" stroke-width="0.9"/>
<line x1="429.49" y1="314.90" x2="433.89" y2="314.90" stroke="#333" stroke-width="0.9"/>
<line x1="429.49" y1="316.18" x2="433.89" y2="316.18" stroke="#333" stroke-width="0.9"/>
<rect x="451.92" y="318.92" width="15.80" height="22.38" fill="#5b9bd5" />
<line x1="459.82" y1="318.44" x2="459.82" y2="319.40" stroke="#333" stroke-width="0.9"/>
<line x1="457.62" y1="318.44" x2="462.02" y2="318.44" stroke="#333" stroke-width="0.9"/>
<line x1="457.62" y1="319.40" x2="462.02" y2="319.40" stroke="#333" stroke-width="0.9"/>
<line x1="62.50" y1="221.00" x2="62.50" y2="301.50" stroke="#111" stroke-width="1.4"/>
<line x1="62.50" y1="221.40" x2="375.40" y2="221.40" stroke="#555" stroke-width="0.9"/>
<line x1="375.40" y1="221.40" x2="375.40" y2="225.50" stroke="#111" stroke-width="1.4"/>
<line x1="62.50" y1="240.60" x2="401.50" y2="240.60" stroke="#555" stroke-width="0.9"/>
<line x1="401.50" y1="240.60" x2="401.50" y2="282.00" stroke="#111" stroke-width="1.4"/>
<line x1="62.50" y1="252.50" x2="262.00" y2="252.50" stroke="#555" stroke-width="0.9"/>
<line x1="262.00" y1="252.50" x2="262.00" y2="284.00" stroke="#111" stroke-width="1.4"/>
<line x1="62.50" y1="262.20" x2="234.30" y2="262.20" stroke="#555" stroke-width="0.9"/>
<line x1="234.30" y1="262.20" x2="234.30" y2="280.00" stroke="#111" stroke-width="1.4"/>
<line x1="62.50" y1="273.50" x2="178.60" y2="273.50" stroke="#555" stroke-width="0.9"/>
<line x1="178.60" y1="273.50" x2="178.60" y2="281.00" stroke="#111" stroke-width="1.4"/>
<line x1="62.50" y1="290.60" x2="94.20" y2="290.60" stroke="#555" stroke-width="0.9"/>
<line x1="94.20" y1="290.60" x2="94.20" y2="296.50" stroke="#111" stroke-width="1.4"/>
<polygon points="78.00,283.55 78.78,285.13 80.52,285.38 79.26,286.61 79.56,288.34 78.00,287.52 76.44,288.34 76.74,286.61 75.48,285.38 77.22,285.13" fill="#222"/>
<polygon points="83.20,283.55 83.98,285.13 85.72,285.38 84.46,286.61 84.76,288.34 83.20,287.52 81.64,288.34 81.94,286.61 80.68,285.38 82.42,285.13" fill="#222"/>
<polygon points="124.30,266.95 125.08,268.53 126.82,268.78 125.56,270.01 125.86,271.74 124.30,270.93 122.74,271.74 123.04,270.01 121.78,268.78 123.52,268.53" fill="#222"/>
<polygon points="129.50,266.95 130.28,268.53 132.02,268.78 130.76,270.01 131.06,271.74 129.50,270.93 127.94,271.74 128.24,270.01 126.98,268.78 128.72,268.53" fill="#222"/>
<polygon points="134.70,266.95 135.48,268.53 137.22,268.78 135.96,270.01 136.26,271.74 134.70,270.93 133.14,271.74 133.44,270.01 132.18,268.78 133.92,268.53" fill="#222"/>
<polygon points="168.20,255.35 168.98,256.93 170.72,257.18 169.46,258.41 169.76,260.14 168.20,259.32 166.64,260.14 166.94,258.41 165.68,257.18 167.42,256.93" fill="#222"/>
<polygon points="173.40,255.35 174.18,256.93 175.92,257.18 174.66,258.41 174.96,260.14 173.40,259.32 171.84,260.14 172.14,258.41 170.88,257.18 172.62,256.93" fill="#222"/>
<polygon points="199.20,245.65 199.98,247.23 201.72,247.48 200.46,248.71 200.76,250.44 199.20,249.62 197.64,250.44 197.94,248.71 196.68,247.48 198.42,247.23" fill="#222"/>
<polygon points="204.40,245.65 205.18,247.23 206.92,247.48 205.66,248.71 205.96,250.44 204.40,249.62 202.84,250.44 203.14,248.71 201.88,247.48 203.62,247.23" fill="#222"/>
<polygon points="211.80,231.35 212.58,232.93 214.32,233.18 213.06,234.41 213.36,236.14 211.80,235.32 210.24,236.14 210.54,234.41 209.28,233.18 211.02,232.93" fill="#222"/>
<polygon points="217.00,231.35 217.78,232.93 219.52,233.18 218.26,234.41 218.56,236.14 217.00,235.32 215.44,236.14 215.74,234.41 214.48,233.18 216.22,232.93" fill="#222"/>
<polygon points="222.20,231.35 222.98,232.93 224.72,233.18 223.46,234.41 223.76,236.14 222.20,235.32 220.64,236.14 220.94,234.41 219.68,233.18 221.42,232.93" fill="#222"/>
<polygon points="243.40,214.15 244.18,215.73 245.92,215.98 244.66,217.21 244.96,218.94 243.40,218.12 241.84,218.94 242.14,217.21 240.88,215.98 242.62,215.73" fill="#222"/>
<polygon points="248.60,214.15 249.38,215.73 251.12,215.98 249.86,217.21 250.16,218.94 248.60,218.12 247.04,218.94 247.34,217.21 246.08,215.98 247.82,215.73" fill="#222"/>
<polygon points="253.80,214.15 254.58,215.73 256.32,215.98 255.06,217.21 255.36,218.94 253.80,218.12 252.24,218.94 252.54,217.21 251.28,215.98 253.02,215.73" fill="#222"/>
<polygon points="259.00,214.15 259.78,215.73 261.52,215.98 260.26,217.21 260.56,218.94 259.00,218.12 257.44,218.94 257.74,217.21 256.48,215.98 258.22,215.73" fill="#222"/>
<text transform="translate(63.80,350.80) rotate(-76)" font-size="10.8" font-weight="bold" font-style="italic" fill="#111" text-anchor="end" dx="0">P<tspan font-size="6.9" dy="2.6" dx="0.6" font-weight="bold" font-style="normal">aprE</tspan></text>
<text transform="translate(94.80,350.80) rotate(-76)" font-size="10.8" font-weight="bold" font-style="italic" fill="#111" text-anchor="end" dx="0">P<tspan font-size="6.9" dy="2.6" dx="0.6" font-weight="bold" font-style="normal">0544</tspan></text>
<text transform="translate(124.80,350.80) rotate(-76)" font-size="10.8" font-weight="bold" font-style="italic" fill="#111" text-anchor="end" dx="0">P<tspan font-size="6.9" dy="2.6" dx="0.6" font-weight="bold" font-style="normal">0765</tspan></text>
<text transform="translate(157.10,350.80) rotate(-76)" font-size="10.8" font-weight="bold" font-style="italic" fill="#111" text-anchor="end" dx="0">P<tspan font-size="6.9" dy="2.6" dx="0.6" font-weight="bold" font-style="normal">0780</tspan></text>
<text transform="translate(182.90,350.80) rotate(-76)" font-size="10.8" font-weight="bold" font-style="italic" fill="#111" text-anchor="end" dx="0">P<tspan font-size="6.9" dy="2.6" dx="0.6" font-weight="bold" font-style="normal">0812</tspan></text>
<text transform="translate(212.90,350.80) rotate(-76)" font-size="10.8" font-weight="bold" font-style="italic" fill="#111" text-anchor="end" dx="0">P<tspan font-size="6.9" dy="2.6" dx="0.6" font-weight="bold" font-style="normal">0828</tspan></text>
<text transform="translate(238.00,350.80) rotate(-76)" font-size="10.8" font-weight="bold" font-style="italic" fill="#111" text-anchor="end" dx="0">P<tspan font-size="6.9" dy="2.6" dx="0.6" font-weight="bold" font-style="normal">1073</tspan></text>
<text transform="translate(265.90,350.80) rotate(-76)" font-size="10.8" font-weight="bold" font-style="italic" fill="#111" text-anchor="end" dx="0">P<tspan font-size="6.9" dy="2.6" dx="0.6" font-weight="bold" font-style="normal">1075</tspan></text>
<text transform="translate(294.80,350.80) rotate(-76)" font-size="10.8" font-weight="bold" font-style="italic" fill="#111" text-anchor="end" dx="0">P<tspan font-size="6.9" dy="2.6" dx="0.6" font-weight="bold" font-style="normal">1571</tspan></text>
<text transform="translate(326.50,350.80) rotate(-76)" font-size="10.8" font-weight="bold" font-style="italic" fill="#111" text-anchor="end" dx="0">P<tspan font-size="6.9" dy="2.6" dx="0.6" font-weight="bold" font-style="normal">1196</tspan></text>
<text transform="translate(355.00,350.80) rotate(-76)" font-size="10.8" font-weight="bold" font-style="italic" fill="#111" text-anchor="end" dx="0">P<tspan font-size="6.9" dy="2.6" dx="0.6" font-weight="bold" font-style="normal">1927</tspan></text>
<text transform="translate(383.50,350.80) rotate(-76)" font-size="10.8" font-weight="bold" font-style="italic" fill="#111" text-anchor="end" dx="0">P<tspan font-size="6.9" dy="2.6" dx="0.6" font-weight="bold" font-style="normal">2069</tspan></text>
<text transform="translate(411.10,350.80) rotate(-76)" font-size="10.8" font-weight="bold" font-style="italic" fill="#111" text-anchor="end" dx="0">P<tspan font-size="6.9" dy="2.6" dx="0.6" font-weight="bold" font-style="normal">2659</tspan></text>
<text transform="translate(439.00,350.80) rotate(-76)" font-size="10.8" font-weight="bold" font-style="italic" fill="#111" text-anchor="end" dx="0">P<tspan font-size="6.9" dy="2.6" dx="0.6" font-weight="bold" font-style="normal">2646</tspan></text>
<text transform="translate(465.80,350.80) rotate(-76)" font-size="10.8" font-weight="bold" font-style="italic" fill="#111" text-anchor="end" dx="0">P<tspan font-size="6.9" dy="2.6" dx="0.6" font-weight="bold" font-style="normal">3514</tspan></text>
<text x="20.20" y="393.20" font-size="18.3" text-anchor="start" font-weight="normal" font-style="normal" fill="#111" >C</text>
<line x1="63.35" y1="507.68" x2="63.35" y2="513.49" stroke="#999" stroke-width="0.6"/>
<line x1="62.35" y1="507.68" x2="64.35" y2="507.68" stroke="#999" stroke-width="0.5"/>
<line x1="62.35" y1="513.49" x2="64.35" y2="513.49" stroke="#999" stroke-width="0.5"/>
<line x1="68.53" y1="478.64" x2="68.53" y2="484.45" stroke="#999" stroke-width="0.6"/>
<line x1="67.53" y1="478.64" x2="69.53" y2="478.64" stroke="#999" stroke-width="0.5"/>
<line x1="67.53" y1="484.45" x2="69.53" y2="484.45" stroke="#999" stroke-width="0.5"/>
<line x1="73.71" y1="455.41" x2="73.71" y2="461.22" stroke="#999" stroke-width="0.6"/>
<line x1="72.71" y1="455.41" x2="74.71" y2="455.41" stroke="#999" stroke-width="0.5"/>
<line x1="72.71" y1="461.22" x2="74.71" y2="461.22" stroke="#999" stroke-width="0.5"/>
<line x1="78.88" y1="443.80" x2="78.88" y2="449.60" stroke="#999" stroke-width="0.6"/>
<line x1="77.88" y1="443.80" x2="79.88" y2="443.80" stroke="#999" stroke-width="0.5"/>
<line x1="77.88" y1="449.60" x2="79.88" y2="449.60" stroke="#999" stroke-width="0.5"/>
<line x1="84.06" y1="437.99" x2="84.06" y2="443.80" stroke="#999" stroke-width="0.6"/>
<line x1="83.06" y1="437.99" x2="85.06" y2="437.99" stroke="#999" stroke-width="0.5"/>
<line x1="83.06" y1="443.80" x2="85.06" y2="443.80" stroke="#999" stroke-width="0.5"/>
<line x1="99.59" y1="427.82" x2="99.59" y2="436.54" stroke="#999" stroke-width="0.6"/>
<line x1="98.59" y1="427.82" x2="100.59" y2="427.82" stroke="#999" stroke-width="0.5"/>
<line x1="98.59" y1="436.54" x2="100.59" y2="436.54" stroke="#999" stroke-width="0.5"/>
<line x1="115.12" y1="432.18" x2="115.12" y2="443.80" stroke="#999" stroke-width="0.6"/>
<line x1="114.12" y1="432.18" x2="116.12" y2="432.18" stroke="#999" stroke-width="0.5"/>
<line x1="114.12" y1="443.80" x2="116.12" y2="443.80" stroke="#999" stroke-width="0.5"/>
<line x1="146.18" y1="461.22" x2="146.18" y2="469.93" stroke="#999" stroke-width="0.6"/>
<line x1="145.18" y1="461.22" x2="147.18" y2="461.22" stroke="#999" stroke-width="0.5"/>
<line x1="145.18" y1="469.93" x2="147.18" y2="469.93" stroke="#999" stroke-width="0.5"/>
<line x1="177.24" y1="477.19" x2="177.24" y2="485.90" stroke="#999" stroke-width="0.6"/>
<line x1="176.24" y1="477.19" x2="178.24" y2="477.19" stroke="#999" stroke-width="0.5"/>
<line x1="176.24" y1="485.90" x2="178.24" y2="485.90" stroke="#999" stroke-width="0.5"/>
<line x1="208.30" y1="484.45" x2="208.30" y2="490.26" stroke="#999" stroke-width="0.6"/>
<line x1="207.30" y1="484.45" x2="209.30" y2="484.45" stroke="#999" stroke-width="0.5"/>
<line x1="207.30" y1="490.26" x2="209.30" y2="490.26" stroke="#999" stroke-width="0.5"/>
<line x1="63.35" y1="512.04" x2="63.35" y2="517.85" stroke="#999" stroke-width="0.6"/>
<line x1="62.35" y1="512.04" x2="64.35" y2="512.04" stroke="#999" stroke-width="0.5"/>
<line x1="62.35" y1="517.85" x2="64.35" y2="517.85" stroke="#999" stroke-width="0.5"/>
<line x1="68.53" y1="504.78" x2="68.53" y2="510.59" stroke="#999" stroke-width="0.6"/>
<line x1="67.53" y1="504.78" x2="69.53" y2="504.78" stroke="#999" stroke-width="0.5"/>
<line x1="67.53" y1="510.59" x2="69.53" y2="510.59" stroke="#999" stroke-width="0.5"/>
<line x1="73.71" y1="487.36" x2="73.71" y2="493.16" stroke="#999" stroke-width="0.6"/>
<line x1="72.71" y1="487.36" x2="74.71" y2="487.36" stroke="#999" stroke-width="0.5"/>
<line x1="72.71" y1="493.16" x2="74.71" y2="493.16" stroke="#999" stroke-width="0.5"/>
<line x1="78.88" y1="469.93" x2="78.88" y2="475.74" stroke="#999" stroke-width="0.6"/>
<line x1="77.88" y1="469.93" x2="79.88" y2="469.93" stroke="#999" stroke-width="0.5"/>
<line x1="77.88" y1="475.74" x2="79.88" y2="475.74" stroke="#999" stroke-width="0.5"/>
<line x1="84.06" y1="458.32" x2="84.06" y2="464.12" stroke="#999" stroke-width="0.6"/>
<line x1="83.06" y1="458.32" x2="85.06" y2="458.32" stroke="#999" stroke-width="0.5"/>
<line x1="83.06" y1="464.12" x2="85.06" y2="464.12" stroke="#999" stroke-width="0.5"/>
<line x1="99.59" y1="439.44" x2="99.59" y2="448.15" stroke="#999" stroke-width="0.6"/>
<line x1="98.59" y1="439.44" x2="100.59" y2="439.44" stroke="#999" stroke-width="0.5"/>
<line x1="98.59" y1="448.15" x2="100.59" y2="448.15" stroke="#999" stroke-width="0.5"/>
<line x1="115.12" y1="415.48" x2="115.12" y2="425.65" stroke="#999" stroke-width="0.6"/>
<line x1="114.12" y1="415.48" x2="116.12" y2="415.48" stroke="#999" stroke-width="0.5"/>
<line x1="114.12" y1="425.65" x2="116.12" y2="425.65" stroke="#999" stroke-width="0.5"/>
<line x1="146.18" y1="453.23" x2="146.18" y2="460.49" stroke="#999" stroke-width="0.6"/>
<line x1="145.18" y1="453.23" x2="147.18" y2="453.23" stroke="#999" stroke-width="0.5"/>
<line x1="145.18" y1="460.49" x2="147.18" y2="460.49" stroke="#999" stroke-width="0.5"/>
<line x1="177.24" y1="467.03" x2="177.24" y2="472.84" stroke="#999" stroke-width="0.6"/>
<line x1="176.24" y1="467.03" x2="178.24" y2="467.03" stroke="#999" stroke-width="0.5"/>
<line x1="176.24" y1="472.84" x2="178.24" y2="472.84" stroke="#999" stroke-width="0.5"/>
<line x1="208.30" y1="474.29" x2="208.30" y2="480.10" stroke="#999" stroke-width="0.6"/>
<line x1="207.30" y1="474.29" x2="209.30" y2="474.29" stroke="#999" stroke-width="0.5"/>
<line x1="207.30" y1="480.10" x2="209.30" y2="480.10" stroke="#999" stroke-width="0.5"/>
<line x1="63.35" y1="504.78" x2="63.35" y2="510.59" stroke="#999" stroke-width="0.6"/>
<line x1="62.35" y1="504.78" x2="64.35" y2="504.78" stroke="#999" stroke-width="0.5"/>
<line x1="62.35" y1="510.59" x2="64.35" y2="510.59" stroke="#999" stroke-width="0.5"/>
<line x1="68.53" y1="475.74" x2="68.53" y2="481.55" stroke="#999" stroke-width="0.6"/>
<line x1="67.53" y1="475.74" x2="69.53" y2="475.74" stroke="#999" stroke-width="0.5"/>
<line x1="67.53" y1="481.55" x2="69.53" y2="481.55" stroke="#999" stroke-width="0.5"/>
<line x1="73.71" y1="452.51" x2="73.71" y2="458.32" stroke="#999" stroke-width="0.6"/>
<line x1="72.71" y1="452.51" x2="74.71" y2="452.51" stroke="#999" stroke-width="0.5"/>
<line x1="72.71" y1="458.32" x2="74.71" y2="458.32" stroke="#999" stroke-width="0.5"/>
<line x1="78.88" y1="445.25" x2="78.88" y2="451.06" stroke="#999" stroke-width="0.6"/>
<line x1="77.88" y1="445.25" x2="79.88" y2="445.25" stroke="#999" stroke-width="0.5"/>
<line x1="77.88" y1="451.06" x2="79.88" y2="451.06" stroke="#999" stroke-width="0.5"/>
<line x1="84.06" y1="440.89" x2="84.06" y2="446.70" stroke="#999" stroke-width="0.6"/>
<line x1="83.06" y1="440.89" x2="85.06" y2="440.89" stroke="#999" stroke-width="0.5"/>
<line x1="83.06" y1="446.70" x2="85.06" y2="446.70" stroke="#999" stroke-width="0.5"/>
<line x1="99.59" y1="435.08" x2="99.59" y2="443.80" stroke="#999" stroke-width="0.6"/>
<line x1="98.59" y1="435.08" x2="100.59" y2="435.08" stroke="#999" stroke-width="0.5"/>
<line x1="98.59" y1="443.80" x2="100.59" y2="443.80" stroke="#999" stroke-width="0.5"/>
<line x1="115.12" y1="439.44" x2="115.12" y2="453.96" stroke="#999" stroke-width="0.6"/>
<line x1="114.12" y1="439.44" x2="116.12" y2="439.44" stroke="#999" stroke-width="0.5"/>
<line x1="114.12" y1="453.96" x2="116.12" y2="453.96" stroke="#999" stroke-width="0.5"/>
<line x1="146.18" y1="464.12" x2="146.18" y2="472.84" stroke="#999" stroke-width="0.6"/>
<line x1="145.18" y1="464.12" x2="147.18" y2="464.12" stroke="#999" stroke-width="0.5"/>
<line x1="145.18" y1="472.84" x2="147.18" y2="472.84" stroke="#999" stroke-width="0.5"/>
<line x1="177.24" y1="471.38" x2="177.24" y2="480.10" stroke="#999" stroke-width="0.6"/>
<line x1="176.24" y1="471.38" x2="178.24" y2="471.38" stroke="#999" stroke-width="0.5"/>
<line x1="176.24" y1="480.10" x2="178.24" y2="480.10" stroke="#999" stroke-width="0.5"/>
<line x1="208.30" y1="481.55" x2="208.30" y2="487.36" stroke="#999" stroke-width="0.6"/>
<line x1="207.30" y1="481.55" x2="209.30" y2="481.55" stroke="#999" stroke-width="0.5"/>
<line x1="207.30" y1="487.36" x2="209.30" y2="487.36" stroke="#999" stroke-width="0.5"/>
<line x1="63.35" y1="501.88" x2="63.35" y2="507.68" stroke="#999" stroke-width="0.6"/>
<line x1="62.35" y1="501.88" x2="64.35" y2="501.88" stroke="#999" stroke-width="0.5"/>
<line x1="62.35" y1="507.68" x2="64.35" y2="507.68" stroke="#999" stroke-width="0.5"/>
<line x1="68.53" y1="475.74" x2="68.53" y2="481.55" stroke="#999" stroke-width="0.6"/>
<line x1="67.53" y1="475.74" x2="69.53" y2="475.74" stroke="#999" stroke-width="0.5"/>
<line x1="67.53" y1="481.55" x2="69.53" y2="481.55" stroke="#999" stroke-width="0.5"/>
<line x1="73.71" y1="455.41" x2="73.71" y2="461.22" stroke="#999" stroke-width="0.6"/>
<line x1="72.71" y1="455.41" x2="74.71" y2="455.41" stroke="#999" stroke-width="0.5"/>
<line x1="72.71" y1="461.22" x2="74.71" y2="461.22" stroke="#999" stroke-width="0.5"/>
<line x1="78.88" y1="448.15" x2="78.88" y2="453.96" stroke="#999" stroke-width="0.6"/>
<line x1="77.88" y1="448.15" x2="79.88" y2="448.15" stroke="#999" stroke-width="0.5"/>
<line x1="77.88" y1="453.96" x2="79.88" y2="453.96" stroke="#999" stroke-width="0.5"/>
<line x1="84.06" y1="443.80" x2="84.06" y2="449.60" stroke="#999" stroke-width="0.6"/>
<line x1="83.06" y1="443.80" x2="85.06" y2="443.80" stroke="#999" stroke-width="0.5"/>
<line x1="83.06" y1="449.60" x2="85.06" y2="449.60" stroke="#999" stroke-width="0.5"/>
<line x1="99.59" y1="435.08" x2="99.59" y2="449.60" stroke="#999" stroke-width="0.6"/>
<line x1="98.59" y1="435.08" x2="100.59" y2="435.08" stroke="#999" stroke-width="0.5"/>
<line x1="98.59" y1="449.60" x2="100.59" y2="449.60" stroke="#999" stroke-width="0.5"/>
<line x1="115.12" y1="448.15" x2="115.12" y2="471.38" stroke="#999" stroke-width="0.6"/>
<line x1="114.12" y1="448.15" x2="116.12" y2="448.15" stroke="#999" stroke-width="0.5"/>
<line x1="114.12" y1="471.38" x2="116.12" y2="471.38" stroke="#999" stroke-width="0.5"/>
<line x1="146.18" y1="478.64" x2="146.18" y2="487.36" stroke="#999" stroke-width="0.6"/>
<line x1="145.18" y1="478.64" x2="147.18" y2="478.64" stroke="#999" stroke-width="0.5"/>
<line x1="145.18" y1="487.36" x2="147.18" y2="487.36" stroke="#999" stroke-width="0.5"/>
<line x1="177.24" y1="490.26" x2="177.24" y2="498.97" stroke="#999" stroke-width="0.6"/>
<line x1="176.24" y1="490.26" x2="178.24" y2="490.26" stroke="#999" stroke-width="0.5"/>
<line x1="176.24" y1="498.97" x2="178.24" y2="498.97" stroke="#999" stroke-width="0.5"/>
<line x1="208.30" y1="501.15" x2="208.30" y2="508.41" stroke="#999" stroke-width="0.6"/>
<line x1="207.30" y1="501.15" x2="209.30" y2="501.15" stroke="#999" stroke-width="0.5"/>
<line x1="207.30" y1="508.41" x2="209.30" y2="508.41" stroke="#999" stroke-width="0.5"/>
<line x1="63.35" y1="491.71" x2="63.35" y2="497.52" stroke="#999" stroke-width="0.6"/>
<line x1="62.35" y1="491.71" x2="64.35" y2="491.71" stroke="#999" stroke-width="0.5"/>
<line x1="62.35" y1="497.52" x2="64.35" y2="497.52" stroke="#999" stroke-width="0.5"/>
<line x1="68.53" y1="469.93" x2="68.53" y2="475.74" stroke="#999" stroke-width="0.6"/>
<line x1="67.53" y1="469.93" x2="69.53" y2="469.93" stroke="#999" stroke-width="0.5"/>
<line x1="67.53" y1="475.74" x2="69.53" y2="475.74" stroke="#999" stroke-width="0.5"/>
<line x1="73.71" y1="455.41" x2="73.71" y2="461.22" stroke="#999" stroke-width="0.6"/>
<line x1="72.71" y1="455.41" x2="74.71" y2="455.41" stroke="#999" stroke-width="0.5"/>
<line x1="72.71" y1="461.22" x2="74.71" y2="461.22" stroke="#999" stroke-width="0.5"/>
<line x1="78.88" y1="445.25" x2="78.88" y2="451.06" stroke="#999" stroke-width="0.6"/>
<line x1="77.88" y1="445.25" x2="79.88" y2="445.25" stroke="#999" stroke-width="0.5"/>
<line x1="77.88" y1="451.06" x2="79.88" y2="451.06" stroke="#999" stroke-width="0.5"/>
<line x1="84.06" y1="443.80" x2="84.06" y2="449.60" stroke="#999" stroke-width="0.6"/>
<line x1="83.06" y1="443.80" x2="85.06" y2="443.80" stroke="#999" stroke-width="0.5"/>
<line x1="83.06" y1="449.60" x2="85.06" y2="449.60" stroke="#999" stroke-width="0.5"/>
<line x1="99.59" y1="445.25" x2="99.59" y2="453.96" stroke="#999" stroke-width="0.6"/>
<line x1="98.59" y1="445.25" x2="100.59" y2="445.25" stroke="#999" stroke-width="0.5"/>
<line x1="98.59" y1="453.96" x2="100.59" y2="453.96" stroke="#999" stroke-width="0.5"/>
<line x1="115.12" y1="459.77" x2="115.12" y2="471.38" stroke="#999" stroke-width="0.6"/>
<line x1="114.12" y1="459.77" x2="116.12" y2="459.77" stroke="#999" stroke-width="0.5"/>
<line x1="114.12" y1="471.38" x2="116.12" y2="471.38" stroke="#999" stroke-width="0.5"/>
<line x1="146.18" y1="483.73" x2="146.18" y2="490.99" stroke="#999" stroke-width="0.6"/>
<line x1="145.18" y1="483.73" x2="147.18" y2="483.73" stroke="#999" stroke-width="0.5"/>
<line x1="145.18" y1="490.99" x2="147.18" y2="490.99" stroke="#999" stroke-width="0.5"/>
<line x1="177.24" y1="493.89" x2="177.24" y2="501.15" stroke="#999" stroke-width="0.6"/>
<line x1="176.24" y1="493.89" x2="178.24" y2="493.89" stroke="#999" stroke-width="0.5"/>
<line x1="176.24" y1="501.15" x2="178.24" y2="501.15" stroke="#999" stroke-width="0.5"/>
<line x1="208.30" y1="504.78" x2="208.30" y2="510.59" stroke="#999" stroke-width="0.6"/>
<line x1="207.30" y1="504.78" x2="209.30" y2="504.78" stroke="#999" stroke-width="0.5"/>
<line x1="207.30" y1="510.59" x2="209.30" y2="510.59" stroke="#999" stroke-width="0.5"/>
<line x1="63.35" y1="497.52" x2="63.35" y2="503.33" stroke="#999" stroke-width="0.6"/>
<line x1="62.35" y1="497.52" x2="64.35" y2="497.52" stroke="#999" stroke-width="0.5"/>
<line x1="62.35" y1="503.33" x2="64.35" y2="503.33" stroke="#999" stroke-width="0.5"/>
<line x1="68.53" y1="472.84" x2="68.53" y2="478.64" stroke="#999" stroke-width="0.6"/>
<line x1="67.53" y1="472.84" x2="69.53" y2="472.84" stroke="#999" stroke-width="0.5"/>
<line x1="67.53" y1="478.64" x2="69.53" y2="478.64" stroke="#999" stroke-width="0.5"/>
<line x1="73.71" y1="451.06" x2="73.71" y2="456.86" stroke="#999" stroke-width="0.6"/>
<line x1="72.71" y1="451.06" x2="74.71" y2="451.06" stroke="#999" stroke-width="0.5"/>
<line x1="72.71" y1="456.86" x2="74.71" y2="456.86" stroke="#999" stroke-width="0.5"/>
<line x1="78.88" y1="443.80" x2="78.88" y2="449.60" stroke="#999" stroke-width="0.6"/>
<line x1="77.88" y1="443.80" x2="79.88" y2="443.80" stroke="#999" stroke-width="0.5"/>
<line x1="77.88" y1="449.60" x2="79.88" y2="449.60" stroke="#999" stroke-width="0.5"/>
<line x1="84.06" y1="440.89" x2="84.06" y2="446.70" stroke="#999" stroke-width="0.6"/>
<line x1="83.06" y1="440.89" x2="85.06" y2="440.89" stroke="#999" stroke-width="0.5"/>
<line x1="83.06" y1="446.70" x2="85.06" y2="446.70" stroke="#999" stroke-width="0.5"/>
<line x1="99.59" y1="422.02" x2="99.59" y2="430.73" stroke="#999" stroke-width="0.6"/>
<line x1="98.59" y1="422.02" x2="100.59" y2="422.02" stroke="#999" stroke-width="0.5"/>
<line x1="98.59" y1="430.73" x2="100.59" y2="430.73" stroke="#999" stroke-width="0.5"/>
<line x1="115.12" y1="439.44" x2="115.12" y2="453.96" stroke="#999" stroke-width="0.6"/>
<line x1="114.12" y1="439.44" x2="116.12" y2="439.44" stroke="#999" stroke-width="0.5"/>
<line x1="114.12" y1="453.96" x2="116.12" y2="453.96" stroke="#999" stroke-width="0.5"/>
<line x1="146.18" y1="461.22" x2="146.18" y2="469.93" stroke="#999" stroke-width="0.6"/>
<line x1="145.18" y1="461.22" x2="147.18" y2="461.22" stroke="#999" stroke-width="0.5"/>
<line x1="145.18" y1="469.93" x2="147.18" y2="469.93" stroke="#999" stroke-width="0.5"/>
<line x1="177.24" y1="469.93" x2="177.24" y2="478.64" stroke="#999" stroke-width="0.6"/>
<line x1="176.24" y1="469.93" x2="178.24" y2="469.93" stroke="#999" stroke-width="0.5"/>
<line x1="176.24" y1="478.64" x2="178.24" y2="478.64" stroke="#999" stroke-width="0.5"/>
<line x1="208.30" y1="479.37" x2="208.30" y2="486.63" stroke="#999" stroke-width="0.6"/>
<line x1="207.30" y1="479.37" x2="209.30" y2="479.37" stroke="#999" stroke-width="0.5"/>
<line x1="207.30" y1="486.63" x2="209.30" y2="486.63" stroke="#999" stroke-width="0.5"/>
<line x1="63.35" y1="506.23" x2="63.35" y2="512.04" stroke="#999" stroke-width="0.6"/>
<line x1="62.35" y1="506.23" x2="64.35" y2="506.23" stroke="#999" stroke-width="0.5"/>
<line x1="62.35" y1="512.04" x2="64.35" y2="512.04" stroke="#999" stroke-width="0.5"/>
<line x1="68.53" y1="481.55" x2="68.53" y2="487.36" stroke="#999" stroke-width="0.6"/>
<line x1="67.53" y1="481.55" x2="69.53" y2="481.55" stroke="#999" stroke-width="0.5"/>
<line x1="67.53" y1="487.36" x2="69.53" y2="487.36" stroke="#999" stroke-width="0.5"/>
<line x1="73.71" y1="459.77" x2="73.71" y2="465.58" stroke="#999" stroke-width="0.6"/>
<line x1="72.71" y1="459.77" x2="74.71" y2="459.77" stroke="#999" stroke-width="0.5"/>
<line x1="72.71" y1="465.58" x2="74.71" y2="465.58" stroke="#999" stroke-width="0.5"/>
<line x1="78.88" y1="449.60" x2="78.88" y2="455.41" stroke="#999" stroke-width="0.6"/>
<line x1="77.88" y1="449.60" x2="79.88" y2="449.60" stroke="#999" stroke-width="0.5"/>
<line x1="77.88" y1="455.41" x2="79.88" y2="455.41" stroke="#999" stroke-width="0.5"/>
<line x1="84.06" y1="443.80" x2="84.06" y2="449.60" stroke="#999" stroke-width="0.6"/>
<line x1="83.06" y1="443.80" x2="85.06" y2="443.80" stroke="#999" stroke-width="0.5"/>
<line x1="83.06" y1="449.60" x2="85.06" y2="449.60" stroke="#999" stroke-width="0.5"/>
<line x1="99.59" y1="433.63" x2="99.59" y2="445.25" stroke="#999" stroke-width="0.6"/>
<line x1="98.59" y1="433.63" x2="100.59" y2="433.63" stroke="#999" stroke-width="0.5"/>
<line x1="98.59" y1="445.25" x2="100.59" y2="445.25" stroke="#999" stroke-width="0.5"/>
<line x1="115.12" y1="433.63" x2="115.12" y2="451.06" stroke="#999" stroke-width="0.6"/>
<line x1="114.12" y1="433.63" x2="116.12" y2="433.63" stroke="#999" stroke-width="0.5"/>
<line x1="114.12" y1="451.06" x2="116.12" y2="451.06" stroke="#999" stroke-width="0.5"/>
<line x1="146.18" y1="465.58" x2="146.18" y2="474.29" stroke="#999" stroke-width="0.6"/>
<line x1="145.18" y1="465.58" x2="147.18" y2="465.58" stroke="#999" stroke-width="0.5"/>
<line x1="145.18" y1="474.29" x2="147.18" y2="474.29" stroke="#999" stroke-width="0.5"/>
<line x1="177.24" y1="480.10" x2="177.24" y2="488.81" stroke="#999" stroke-width="0.6"/>
<line x1="176.24" y1="480.10" x2="178.24" y2="480.10" stroke="#999" stroke-width="0.5"/>
<line x1="176.24" y1="488.81" x2="178.24" y2="488.81" stroke="#999" stroke-width="0.5"/>
<line x1="208.30" y1="486.63" x2="208.30" y2="493.89" stroke="#999" stroke-width="0.6"/>
<line x1="207.30" y1="486.63" x2="209.30" y2="486.63" stroke="#999" stroke-width="0.5"/>
<line x1="207.30" y1="493.89" x2="209.30" y2="493.89" stroke="#999" stroke-width="0.5"/>
<polyline points="53.00,519.30 58.18,517.85 63.35,510.59 68.53,481.55 73.71,458.32 78.88,446.70 84.06,440.89 99.59,432.18 115.12,437.99 146.18,465.58 177.24,481.55 208.30,487.36" fill="none" stroke="#5b9bd5" stroke-width="1.0"/>
<path d="M53.00 517.60L54.70 519.30L53.00 521.00L51.30 519.30Z" fill="#5b9bd5"/>
<path d="M58.18 516.15L59.88 517.85L58.18 519.55L56.48 517.85Z" fill="#5b9bd5"/>
<path d="M63.35 508.89L65.05 510.59L63.35 512.29L61.65 510.59Z" fill="#5b9bd5"/>
<path d="M68.53 479.85L70.23 481.55L68.53 483.25L66.83 481.55Z" fill="#5b9bd5"/>
<path d="M73.71 456.62L75.41 458.32L73.71 460.02L72.01 458.32Z" fill="#5b9bd5"/>
<path d="M78.88 445.00L80.58 446.70L78.88 448.40L77.18 446.70Z" fill="#5b9bd5"/>
<path d="M84.06 439.19L85.76 440.89L84.06 442.59L82.36 440.89Z" fill="#5b9bd5"/>
<path d="M99.59 430.48L101.29 432.18L99.59 433.88L97.89 432.18Z" fill="#5b9bd5"/>
<path d="M115.12 436.29L116.82 437.99L115.12 439.69L113.42 437.99Z" fill="#5b9bd5"/>
<path d="M146.18 463.88L147.88 465.58L146.18 467.28L144.48 465.58Z" fill="#5b9bd5"/>
<path d="M177.24 479.85L178.94 481.55L177.24 483.25L175.54 481.55Z" fill="#5b9bd5"/>
<path d="M208.30 485.66L210.00 487.36L208.30 489.06L206.60 487.36Z" fill="#5b9bd5"/>
<polyline points="53.00,519.30 58.18,518.57 63.35,514.94 68.53,507.68 73.71,490.26 78.88,472.84 84.06,461.22 99.59,443.80 115.12,420.56 146.18,456.86 177.24,469.93 208.30,477.19" fill="none" stroke="#70ad47" stroke-width="1.0"/>
<circle cx="53.00" cy="519.30" r="1.4" fill="#70ad47"/>
<circle cx="58.18" cy="518.57" r="1.4" fill="#70ad47"/>
<circle cx="63.35" cy="514.94" r="1.4" fill="#70ad47"/>
<circle cx="68.53" cy="507.68" r="1.4" fill="#70ad47"/>
<circle cx="73.71" cy="490.26" r="1.4" fill="#70ad47"/>
<circle cx="78.88" cy="472.84" r="1.4" fill="#70ad47"/>
<circle cx="84.06" cy="461.22" r="1.4" fill="#70ad47"/>
<circle cx="99.59" cy="443.80" r="1.4" fill="#70ad47"/>
<circle cx="115.12" cy="420.56" r="1.4" fill="#70ad47"/>
<circle cx="146.18" cy="456.86" r="1.4" fill="#70ad47"/>
<circle cx="177.24" cy="469.93" r="1.4" fill="#70ad47"/>
<circle cx="208.30" cy="477.19" r="1.4" fill="#70ad47"/>
<polyline points="53.00,519.30 58.18,517.85 63.35,507.68 68.53,478.64 73.71,455.41 78.88,448.15 84.06,443.80 99.59,439.44 115.12,446.70 146.18,468.48 177.24,475.74 208.30,484.45" fill="none" stroke="#4472c4" stroke-width="1.0"/>
<path d="M51.60 517.90L54.40 520.70M54.40 517.90L51.60 520.70" stroke="#4472c4" stroke-width="0.9"/>
<path d="M56.78 516.45L59.58 519.25M59.58 516.45L56.78 519.25" stroke="#4472c4" stroke-width="0.9"/>
<path d="M61.95 506.28L64.75 509.08M64.75 506.28L61.95 509.08" stroke="#4472c4" stroke-width="0.9"/>
<path d="M67.13 477.24L69.93 480.04M69.93 477.24L67.13 480.04" stroke="#4472c4" stroke-width="0.9"/>
<path d="M72.31 454.01L75.11 456.81M75.11 454.01L72.31 456.81" stroke="#4472c4" stroke-width="0.9"/>
<path d="M77.48 446.75L80.28 449.55M80.28 446.75L77.48 449.55" stroke="#4472c4" stroke-width="0.9"/>
<path d="M82.66 442.40L85.46 445.20M85.46 442.40L82.66 445.20" stroke="#4472c4" stroke-width="0.9"/>
<path d="M98.19 438.04L100.99 440.84M100.99 438.04L98.19 440.84" stroke="#4472c4" stroke-width="0.9"/>
<path d="M113.72 445.30L116.52 448.10M116.52 445.30L113.72 448.10" stroke="#4472c4" stroke-width="0.9"/>
<path d="M144.78 467.08L147.58 469.88M147.58 467.08L144.78 469.88" stroke="#4472c4" stroke-width="0.9"/>
<path d="M175.84 474.34L178.64 477.14M178.64 474.34L175.84 477.14" stroke="#4472c4" stroke-width="0.9"/>
<path d="M206.90 483.05L209.70 485.85M209.70 483.05L206.90 485.85" stroke="#4472c4" stroke-width="0.9"/>
<polyline points="53.00,519.30 58.18,517.85 63.35,504.78 68.53,478.64 73.71,458.32 78.88,451.06 84.06,446.70 99.59,442.34 115.12,459.77 146.18,483.00 177.24,494.62 208.30,504.78" fill="none" stroke="#a5a5a5" stroke-width="1.0"/>
<path d="M53.00 517.70L54.60 520.70L51.40 520.70Z" fill="#a5a5a5"/>
<path d="M58.18 516.25L59.78 519.25L56.58 519.25Z" fill="#a5a5a5"/>
<path d="M63.35 503.18L64.95 506.18L61.75 506.18Z" fill="#a5a5a5"/>
<path d="M68.53 477.04L70.13 480.04L66.93 480.04Z" fill="#a5a5a5"/>
<path d="M73.71 456.72L75.31 459.72L72.11 459.72Z" fill="#a5a5a5"/>
<path d="M78.88 449.46L80.48 452.46L77.28 452.46Z" fill="#a5a5a5"/>
<path d="M84.06 445.10L85.66 448.10L82.46 448.10Z" fill="#a5a5a5"/>
<path d="M99.59 440.74L101.19 443.74L97.99 443.74Z" fill="#a5a5a5"/>
<path d="M115.12 458.17L116.72 461.17L113.52 461.17Z" fill="#a5a5a5"/>
<path d="M146.18 481.40L147.78 484.40L144.58 484.40Z" fill="#a5a5a5"/>
<path d="M177.24 493.02L178.84 496.02L175.64 496.02Z" fill="#a5a5a5"/>
<path d="M208.30 503.18L209.90 506.18L206.70 506.18Z" fill="#a5a5a5"/>
<polyline points="53.00,519.30 58.18,516.40 63.35,494.62 68.53,472.84 73.71,458.32 78.88,448.15 84.06,446.70 99.59,449.60 115.12,465.58 146.18,487.36 177.24,497.52 208.30,507.68" fill="none" stroke="#ed7d31" stroke-width="1.0"/>
<rect x="51.60" y="517.90" width="2.80" height="2.80" fill="#ed7d31" />
<rect x="56.78" y="515.00" width="2.80" height="2.80" fill="#ed7d31" />
<rect x="61.95" y="493.22" width="2.80" height="2.80" fill="#ed7d31" />
<rect x="67.13" y="471.44" width="2.80" height="2.80" fill="#ed7d31" />
<rect x="72.31" y="456.92" width="2.80" height="2.80" fill="#ed7d31" />
<rect x="77.48" y="446.75" width="2.80" height="2.80" fill="#ed7d31" />
<rect x="82.66" y="445.30" width="2.80" height="2.80" fill="#ed7d31" />
<rect x="98.19" y="448.20" width="2.80" height="2.80" fill="#ed7d31" />
<rect x="113.72" y="464.18" width="2.80" height="2.80" fill="#ed7d31" />
<rect x="144.78" y="485.96" width="2.80" height="2.80" fill="#ed7d31" />
<rect x="175.84" y="496.12" width="2.80" height="2.80" fill="#ed7d31" />
<rect x="206.90" y="506.28" width="2.80" height="2.80" fill="#ed7d31" />
<polyline points="53.00,519.30 58.18,516.40 63.35,500.42 68.53,475.74 73.71,453.96 78.88,446.70 84.06,443.80 99.59,426.37 115.12,446.70 146.18,465.58 177.24,474.29 208.30,483.00" fill="none" stroke="#ffc000" stroke-width="1.0"/>
<path d="M51.60 517.90L54.40 520.70M54.40 517.90L51.60 520.70" stroke="#ffc000" stroke-width="0.9"/>
<path d="M56.78 515.00L59.58 517.80M59.58 515.00L56.78 517.80" stroke="#ffc000" stroke-width="0.9"/>
<path d="M61.95 499.02L64.75 501.82M64.75 499.02L61.95 501.82" stroke="#ffc000" stroke-width="0.9"/>
<path d="M67.13 474.34L69.93 477.14M69.93 474.34L67.13 477.14" stroke="#ffc000" stroke-width="0.9"/>
<path d="M72.31 452.56L75.11 455.36M75.11 452.56L72.31 455.36" stroke="#ffc000" stroke-width="0.9"/>
<path d="M77.48 445.30L80.28 448.10M80.28 445.30L77.48 448.10" stroke="#ffc000" stroke-width="0.9"/>
<path d="M82.66 442.40L85.46 445.20M85.46 442.40L82.66 445.20" stroke="#ffc000" stroke-width="0.9"/>
<path d="M98.19 424.97L100.99 427.77M100.99 424.97L98.19 427.77" stroke="#ffc000" stroke-width="0.9"/>
<path d="M113.72 445.30L116.52 448.10M116.52 445.30L113.72 448.10" stroke="#ffc000" stroke-width="0.9"/>
<path d="M144.78 464.18L147.58 466.98M147.58 464.18L144.78 466.98" stroke="#ffc000" stroke-width="0.9"/>
<path d="M175.84 472.89L178.64 475.69M178.64 472.89L175.84 475.69" stroke="#ffc000" stroke-width="0.9"/>
<path d="M206.90 481.60L209.70 484.40M209.70 481.60L206.90 484.40" stroke="#ffc000" stroke-width="0.9"/>
<polyline points="53.00,519.30 58.18,517.85 63.35,509.14 68.53,484.45 73.71,462.67 78.88,452.51 84.06,446.70 99.59,439.44 115.12,442.34 146.18,469.93 177.24,484.45 208.30,490.26" fill="none" stroke="#2f6db2" stroke-width="1.0"/>
<path d="M51.60 519.30L54.40 519.30M53.00 517.90L53.00 520.70" stroke="#2f6db2" stroke-width="0.9"/>
<path d="M56.78 517.85L59.58 517.85M58.18 516.45L58.18 519.25" stroke="#2f6db2" stroke-width="0.9"/>
<path d="M61.95 509.14L64.75 509.14M63.35 507.74L63.35 510.54" stroke="#2f6db2" stroke-width="0.9"/>
<path d="M67.13 484.45L69.93 484.45M68.53 483.05L68.53 485.85" stroke="#2f6db2" stroke-width="0.9"/>
<path d="M72.31 462.67L75.11 462.67M73.71 461.27L73.71 464.07" stroke="#2f6db2" stroke-width="0.9"/>
<path d="M77.48 452.51L80.28 452.51M78.88 451.11L78.88 453.91" stroke="#2f6db2" stroke-width="0.9"/>
<path d="M82.66 446.70L85.46 446.70M84.06 445.30L84.06 448.10" stroke="#2f6db2" stroke-width="0.9"/>
<path d="M98.19 439.44L100.99 439.44M99.59 438.04L99.59 440.84" stroke="#2f6db2" stroke-width="0.9"/>
<path d="M113.72 442.34L116.52 442.34M115.12 440.94L115.12 443.74" stroke="#2f6db2" stroke-width="0.9"/>
<path d="M144.78 469.93L147.58 469.93M146.18 468.53L146.18 471.33" stroke="#2f6db2" stroke-width="0.9"/>
<path d="M175.84 484.45L178.64 484.45M177.24 483.05L177.24 485.85" stroke="#2f6db2" stroke-width="0.9"/>
<path d="M206.90 490.26L209.70 490.26M208.30 488.86L208.30 491.66" stroke="#2f6db2" stroke-width="0.9"/>
<line x1="52.80" y1="402.10" x2="209.60" y2="402.10" stroke="#666" stroke-width="1.0"/>
<line x1="209.60" y1="402.10" x2="209.60" y2="519.30" stroke="#444" stroke-width="1.0"/>
<line x1="52.80" y1="401.50" x2="52.80" y2="520.10" stroke="#222" stroke-width="1.3"/>
<line x1="52.80" y1="519.30" x2="209.60" y2="519.30" stroke="#222" stroke-width="1.4"/>
<line x1="52.80" y1="519.30" x2="54.80" y2="519.30" stroke="#111" stroke-width="0.8"/>
<text x="48.20" y="520.10" font-size="10.2" text-anchor="end" font-weight="normal" font-style="normal" fill="#111" >0</text>
<line x1="52.80" y1="490.26" x2="54.80" y2="490.26" stroke="#111" stroke-width="0.8"/>
<text x="48.20" y="494.80" font-size="10.2" text-anchor="end" font-weight="normal" font-style="normal" fill="#111" >2</text>
<line x1="52.80" y1="461.22" x2="54.80" y2="461.22" stroke="#111" stroke-width="0.8"/>
<text x="48.20" y="465.20" font-size="10.2" text-anchor="end" font-weight="normal" font-style="normal" fill="#111" >4</text>
<line x1="52.80" y1="432.18" x2="54.80" y2="432.18" stroke="#111" stroke-width="0.8"/>
<text x="48.20" y="435.30" font-size="10.2" text-anchor="end" font-weight="normal" font-style="normal" fill="#111" >6</text>
<line x1="52.80" y1="403.14" x2="54.80" y2="403.14" stroke="#111" stroke-width="0.8"/>
<text x="48.20" y="408.40" font-size="10.2" text-anchor="end" font-weight="normal" font-style="normal" fill="#111" >8</text>
<text x="53.00" y="531.60" font-size="10.0" text-anchor="middle" font-weight="normal" font-style="normal" fill="#111" >0</text>
<line x1="53.00" y1="519.50" x2="53.00" y2="517.50" stroke="#111" stroke-width="0.8"/>
<text x="84.06" y="531.60" font-size="10.0" text-anchor="middle" font-weight="normal" font-style="normal" fill="#111" >12</text>
<line x1="84.06" y1="519.50" x2="84.06" y2="517.50" stroke="#111" stroke-width="0.8"/>
<text x="115.12" y="531.60" font-size="10.0" text-anchor="middle" font-weight="normal" font-style="normal" fill="#111" >24</text>
<line x1="115.12" y1="519.50" x2="115.12" y2="517.50" stroke="#111" stroke-width="0.8"/>
<text x="146.18" y="531.60" font-size="10.0" text-anchor="middle" font-weight="normal" font-style="normal" fill="#111" >36</text>
<line x1="146.18" y1="519.50" x2="146.18" y2="517.50" stroke="#111" stroke-width="0.8"/>
<text x="177.24" y="531.60" font-size="10.0" text-anchor="middle" font-weight="normal" font-style="normal" fill="#111" >48</text>
<line x1="177.24" y1="519.50" x2="177.24" y2="517.50" stroke="#111" stroke-width="0.8"/>
<text x="208.30" y="531.60" font-size="10.0" text-anchor="middle" font-weight="normal" font-style="normal" fill="#111" >60</text>
<line x1="208.30" y1="519.50" x2="208.30" y2="517.50" stroke="#111" stroke-width="0.8"/>
<text x="128.60" y="544.10" font-size="10.7" text-anchor="middle" font-weight="normal" font-style="normal" fill="#111" >Time (h)</text>
<text transform="translate(31.0,464) rotate(-90)" font-size="10.5" text-anchor="middle" fill="#111">Cell density (OD<tspan font-size="7" dy="1.5">600</tspan><tspan dy="-1.5">)</tspan></text>
<line x1="167.70" y1="409.60" x2="181.60" y2="409.60" stroke="#5b9bd5" stroke-width="1.2"/>
<path d="M174.60 407.50L176.70 409.60L174.60 411.70L172.50 409.60Z" fill="#5b9bd5"/>
<text x="186.0" y="412.60" font-size="8.3" fill="#333">P<tspan font-size="5.7" dy="0.6" fill="#444">aprE</tspan></text>
<line x1="167.70" y1="417.90" x2="181.60" y2="417.90" stroke="#70ad47" stroke-width="1.2"/>
<circle cx="174.60" cy="417.90" r="1.9" fill="#70ad47"/>
<text x="186.0" y="420.90" font-size="8.3" fill="#333">P<tspan font-size="5.7" dy="0.6" fill="#444">0544</tspan></text>
<line x1="167.70" y1="426.20" x2="181.60" y2="426.20" stroke="#4472c4" stroke-width="1.2"/>
<path d="M172.30 423.90L176.90 428.50M176.90 423.90L172.30 428.50" stroke="#4472c4" stroke-width="0.9"/>
<text x="186.0" y="429.20" font-size="8.3" fill="#333">P<tspan font-size="5.7" dy="0.6" fill="#444">0812</tspan></text>
<line x1="167.70" y1="434.50" x2="181.60" y2="434.50" stroke="#a5a5a5" stroke-width="1.2"/>
<path d="M174.60 432.50L176.60 436.30L172.60 436.30Z" fill="#a5a5a5"/>
<text x="186.0" y="437.50" font-size="8.3" fill="#333">P<tspan font-size="5.7" dy="0.6" fill="#444">1073</tspan></text>
<line x1="167.70" y1="442.80" x2="181.60" y2="442.80" stroke="#ed7d31" stroke-width="1.2"/>
<rect x="172.30" y="440.50" width="4.60" height="4.60" fill="#ed7d31" />
<text x="186.0" y="445.80" font-size="8.3" fill="#333">P<tspan font-size="5.7" dy="0.6" fill="#444">1075</tspan></text>
<line x1="167.70" y1="451.10" x2="181.60" y2="451.10" stroke="#ffc000" stroke-width="1.2"/>
<path d="M172.30 448.80L176.90 453.40M176.90 448.80L172.30 453.40" stroke="#ffc000" stroke-width="0.9"/>
<text x="186.0" y="454.10" font-size="8.3" fill="#333">P<tspan font-size="5.7" dy="0.6" fill="#444">2069</tspan></text>
<line x1="167.70" y1="459.40" x2="181.60" y2="459.40" stroke="#2f6db2" stroke-width="1.2"/>
<path d="M172.30 459.40L176.90 459.40M174.60 457.10L174.60 461.70" stroke="#2f6db2" stroke-width="0.9"/>
<text x="186.0" y="462.40" font-size="8.3" fill="#333">P<tspan font-size="5.7" dy="0.6" fill="#444">2569</tspan></text>
<text x="252.50" y="394.40" font-size="16.6" text-anchor="start" font-weight="normal" font-style="normal" fill="#111" >D</text>
<polyline points="307.00,515.50 337.78,508.46 368.56,501.99 399.34,497.91 430.12,491.67 460.90,493.37" fill="none" stroke="#5b9bd5" stroke-width="1.1"/>
<path d="M307.00 513.70L308.80 515.50L307.00 517.30L305.20 515.50Z" fill="#5b9bd5"/>
<line x1="337.78" y1="508.01" x2="337.78" y2="508.92" stroke="#777" stroke-width="0.6"/>
<line x1="336.58" y1="508.01" x2="338.98" y2="508.01" stroke="#777" stroke-width="0.5"/>
<path d="M337.78 506.66L339.58 508.46L337.78 510.26L335.98 508.46Z" fill="#5b9bd5"/>
<line x1="368.56" y1="501.31" x2="368.56" y2="502.67" stroke="#777" stroke-width="0.6"/>
<line x1="367.36" y1="501.31" x2="369.76" y2="501.31" stroke="#777" stroke-width="0.5"/>
<path d="M368.56 500.19L370.36 501.99L368.56 503.79L366.76 501.99Z" fill="#5b9bd5"/>
<line x1="399.34" y1="497.00" x2="399.34" y2="498.82" stroke="#777" stroke-width="0.6"/>
<line x1="398.14" y1="497.00" x2="400.54" y2="497.00" stroke="#777" stroke-width="0.5"/>
<path d="M399.34 496.11L401.14 497.91L399.34 499.71L397.54 497.91Z" fill="#5b9bd5"/>
<line x1="430.12" y1="490.53" x2="430.12" y2="492.80" stroke="#777" stroke-width="0.6"/>
<line x1="428.92" y1="490.53" x2="431.32" y2="490.53" stroke="#777" stroke-width="0.5"/>
<path d="M430.12 489.87L431.92 491.67L430.12 493.47L428.32 491.67Z" fill="#5b9bd5"/>
<line x1="460.90" y1="492.23" x2="460.90" y2="494.50" stroke="#777" stroke-width="0.6"/>
<line x1="459.70" y1="492.23" x2="462.10" y2="492.23" stroke="#777" stroke-width="0.5"/>
<path d="M460.90 491.57L462.70 493.37L460.90 495.17L459.10 493.37Z" fill="#5b9bd5"/>
<polyline points="307.00,515.50 337.78,508.12 368.56,497.34 399.34,490.53 430.12,487.01 460.90,489.05" fill="none" stroke="#70ad47" stroke-width="1.1"/>
<circle cx="307.00" cy="515.50" r="1.5" fill="#70ad47"/>
<line x1="337.78" y1="507.67" x2="337.78" y2="508.58" stroke="#777" stroke-width="0.6"/>
<line x1="336.58" y1="507.67" x2="338.98" y2="507.67" stroke="#777" stroke-width="0.5"/>
<circle cx="337.78" cy="508.12" r="1.5" fill="#70ad47"/>
<line x1="368.56" y1="496.43" x2="368.56" y2="498.25" stroke="#777" stroke-width="0.6"/>
<line x1="367.36" y1="496.43" x2="369.76" y2="496.43" stroke="#777" stroke-width="0.5"/>
<circle cx="368.56" cy="497.34" r="1.5" fill="#70ad47"/>
<line x1="399.34" y1="489.39" x2="399.34" y2="491.67" stroke="#777" stroke-width="0.6"/>
<line x1="398.14" y1="489.39" x2="400.54" y2="489.39" stroke="#777" stroke-width="0.5"/>
<circle cx="399.34" cy="490.53" r="1.5" fill="#70ad47"/>
<line x1="430.12" y1="485.88" x2="430.12" y2="488.15" stroke="#777" stroke-width="0.6"/>
<line x1="428.92" y1="485.88" x2="431.32" y2="485.88" stroke="#777" stroke-width="0.5"/>
<circle cx="430.12" cy="487.01" r="1.5" fill="#70ad47"/>
<line x1="460.90" y1="487.92" x2="460.90" y2="490.19" stroke="#777" stroke-width="0.6"/>
<line x1="459.70" y1="487.92" x2="462.10" y2="487.92" stroke="#777" stroke-width="0.5"/>
<circle cx="460.90" cy="489.05" r="1.5" fill="#70ad47"/>
<polyline points="307.00,515.50 337.78,508.12 368.56,496.89 399.34,479.29 430.12,474.98 460.90,478.61" fill="none" stroke="#4472c4" stroke-width="1.1"/>
<path d="M305.50 514.00L308.50 517.00M308.50 514.00L305.50 517.00" stroke="#4472c4" stroke-width="0.9"/>
<line x1="337.78" y1="507.67" x2="337.78" y2="508.58" stroke="#777" stroke-width="0.6"/>
<line x1="336.58" y1="507.67" x2="338.98" y2="507.67" stroke="#777" stroke-width="0.5"/>
<path d="M336.28 506.62L339.28 509.62M339.28 506.62L336.28 509.62" stroke="#4472c4" stroke-width="0.9"/>
<line x1="368.56" y1="495.75" x2="368.56" y2="498.02" stroke="#777" stroke-width="0.6"/>
<line x1="367.36" y1="495.75" x2="369.76" y2="495.75" stroke="#777" stroke-width="0.5"/>
<path d="M367.06 495.39L370.06 498.39M370.06 495.39L367.06 498.39" stroke="#4472c4" stroke-width="0.9"/>
<line x1="399.34" y1="476.12" x2="399.34" y2="482.47" stroke="#777" stroke-width="0.6"/>
<line x1="398.14" y1="476.12" x2="400.54" y2="476.12" stroke="#777" stroke-width="0.5"/>
<path d="M397.84 477.79L400.84 480.79M400.84 477.79L397.84 480.79" stroke="#4472c4" stroke-width="0.9"/>
<line x1="430.12" y1="473.16" x2="430.12" y2="476.80" stroke="#777" stroke-width="0.6"/>
<line x1="428.92" y1="473.16" x2="431.32" y2="473.16" stroke="#777" stroke-width="0.5"/>
<path d="M428.62 473.48L431.62 476.48M431.62 473.48L428.62 476.48" stroke="#4472c4" stroke-width="0.9"/>
<line x1="460.90" y1="477.25" x2="460.90" y2="479.97" stroke="#777" stroke-width="0.6"/>
<line x1="459.70" y1="477.25" x2="462.10" y2="477.25" stroke="#777" stroke-width="0.5"/>
<path d="M459.40 477.11L462.40 480.11M462.40 477.11L459.40 480.11" stroke="#4472c4" stroke-width="0.9"/>
<polyline points="307.00,515.50 337.78,508.12 368.56,496.20 399.34,485.42 430.12,486.56 460.90,487.69" fill="none" stroke="#a5a5a5" stroke-width="1.1"/>
<path d="M307.00 513.80L308.70 517.00L305.30 517.00Z" fill="#a5a5a5"/>
<line x1="337.78" y1="507.67" x2="337.78" y2="508.58" stroke="#777" stroke-width="0.6"/>
<line x1="336.58" y1="507.67" x2="338.98" y2="507.67" stroke="#777" stroke-width="0.5"/>
<path d="M337.78 506.42L339.48 509.62L336.08 509.62Z" fill="#a5a5a5"/>
<line x1="368.56" y1="495.30" x2="368.56" y2="497.11" stroke="#777" stroke-width="0.6"/>
<line x1="367.36" y1="495.30" x2="369.76" y2="495.30" stroke="#777" stroke-width="0.5"/>
<path d="M368.56 494.50L370.26 497.70L366.86 497.70Z" fill="#a5a5a5"/>
<line x1="399.34" y1="484.29" x2="399.34" y2="486.56" stroke="#777" stroke-width="0.6"/>
<line x1="398.14" y1="484.29" x2="400.54" y2="484.29" stroke="#777" stroke-width="0.5"/>
<path d="M399.34 483.72L401.04 486.92L397.64 486.92Z" fill="#a5a5a5"/>
<line x1="430.12" y1="485.42" x2="430.12" y2="487.69" stroke="#777" stroke-width="0.6"/>
<line x1="428.92" y1="485.42" x2="431.32" y2="485.42" stroke="#777" stroke-width="0.5"/>
<path d="M430.12 484.86L431.82 488.06L428.42 488.06Z" fill="#a5a5a5"/>
<line x1="460.90" y1="486.56" x2="460.90" y2="488.83" stroke="#777" stroke-width="0.6"/>
<line x1="459.70" y1="486.56" x2="462.10" y2="486.56" stroke="#777" stroke-width="0.5"/>
<path d="M460.90 485.99L462.60 489.19L459.20 489.19Z" fill="#a5a5a5"/>
<polyline points="307.00,515.50 337.78,508.12 368.56,491.10 399.34,485.42 430.12,484.63 460.90,485.65" fill="none" stroke="#ed7d31" stroke-width="1.1"/>
<rect x="305.50" y="514.00" width="3.00" height="3.00" fill="#ed7d31" />
<line x1="337.78" y1="507.67" x2="337.78" y2="508.58" stroke="#777" stroke-width="0.6"/>
<line x1="336.58" y1="507.67" x2="338.98" y2="507.67" stroke="#777" stroke-width="0.5"/>
<rect x="336.28" y="506.62" width="3.00" height="3.00" fill="#ed7d31" />
<line x1="368.56" y1="490.19" x2="368.56" y2="492.01" stroke="#777" stroke-width="0.6"/>
<line x1="367.36" y1="490.19" x2="369.76" y2="490.19" stroke="#777" stroke-width="0.5"/>
<rect x="367.06" y="489.60" width="3.00" height="3.00" fill="#ed7d31" />
<line x1="399.34" y1="484.29" x2="399.34" y2="486.56" stroke="#777" stroke-width="0.6"/>
<line x1="398.14" y1="484.29" x2="400.54" y2="484.29" stroke="#777" stroke-width="0.5"/>
<rect x="397.84" y="483.92" width="3.00" height="3.00" fill="#ed7d31" />
<line x1="430.12" y1="483.49" x2="430.12" y2="485.76" stroke="#777" stroke-width="0.6"/>
<line x1="428.92" y1="483.49" x2="431.32" y2="483.49" stroke="#777" stroke-width="0.5"/>
<rect x="428.62" y="483.13" width="3.00" height="3.00" fill="#ed7d31" />
<line x1="460.90" y1="484.51" x2="460.90" y2="486.78" stroke="#777" stroke-width="0.6"/>
<line x1="459.70" y1="484.51" x2="462.10" y2="484.51" stroke="#777" stroke-width="0.5"/>
<rect x="459.40" y="484.15" width="3.00" height="3.00" fill="#ed7d31" />
<polyline points="307.00,515.50 337.78,507.44 368.56,461.70 399.34,429.47 430.12,437.19 460.90,454.78" fill="none" stroke="#ffc000" stroke-width="1.1"/>
<path d="M305.50 514.00L308.50 517.00M308.50 514.00L305.50 517.00" stroke="#ffc000" stroke-width="0.9"/>
<line x1="337.78" y1="506.99" x2="337.78" y2="507.90" stroke="#777" stroke-width="0.6"/>
<line x1="336.58" y1="506.99" x2="338.98" y2="506.99" stroke="#777" stroke-width="0.5"/>
<path d="M336.28 505.94L339.28 508.94M339.28 505.94L336.28 508.94" stroke="#ffc000" stroke-width="0.9"/>
<line x1="368.56" y1="458.07" x2="368.56" y2="465.33" stroke="#777" stroke-width="0.6"/>
<line x1="367.36" y1="458.07" x2="369.76" y2="458.07" stroke="#777" stroke-width="0.5"/>
<path d="M367.06 460.20L370.06 463.20M370.06 460.20L367.06 463.20" stroke="#ffc000" stroke-width="0.9"/>
<line x1="399.34" y1="427.88" x2="399.34" y2="431.06" stroke="#777" stroke-width="0.6"/>
<line x1="398.14" y1="427.88" x2="400.54" y2="427.88" stroke="#777" stroke-width="0.5"/>
<path d="M397.84 427.97L400.84 430.97M400.84 427.97L397.84 430.97" stroke="#ffc000" stroke-width="0.9"/>
<line x1="430.12" y1="434.46" x2="430.12" y2="439.91" stroke="#777" stroke-width="0.6"/>
<line x1="428.92" y1="434.46" x2="431.32" y2="434.46" stroke="#777" stroke-width="0.5"/>
<path d="M428.62 435.69L431.62 438.69M431.62 435.69L428.62 438.69" stroke="#ffc000" stroke-width="0.9"/>
<line x1="460.90" y1="453.64" x2="460.90" y2="455.91" stroke="#777" stroke-width="0.6"/>
<line x1="459.70" y1="453.64" x2="462.10" y2="453.64" stroke="#777" stroke-width="0.5"/>
<path d="M459.40 453.28L462.40 456.28M462.40 453.28L459.40 456.28" stroke="#ffc000" stroke-width="0.9"/>
<polyline points="307.00,515.50 337.78,508.12 368.56,497.57 399.34,487.01 430.12,483.15 460.90,484.29" fill="none" stroke="#2f6db2" stroke-width="1.1"/>
<path d="M305.50 515.50L308.50 515.50M307.00 514.00L307.00 517.00" stroke="#2f6db2" stroke-width="0.9"/>
<line x1="337.78" y1="507.67" x2="337.78" y2="508.58" stroke="#777" stroke-width="0.6"/>
<line x1="336.58" y1="507.67" x2="338.98" y2="507.67" stroke="#777" stroke-width="0.5"/>
<path d="M336.28 508.12L339.28 508.12M337.78 506.62L337.78 509.62" stroke="#2f6db2" stroke-width="0.9"/>
<line x1="368.56" y1="495.30" x2="368.56" y2="499.84" stroke="#777" stroke-width="0.6"/>
<line x1="367.36" y1="495.30" x2="369.76" y2="495.30" stroke="#777" stroke-width="0.5"/>
<path d="M367.06 497.57L370.06 497.57M368.56 496.07L368.56 499.07" stroke="#2f6db2" stroke-width="0.9"/>
<line x1="399.34" y1="485.88" x2="399.34" y2="488.15" stroke="#777" stroke-width="0.6"/>
<line x1="398.14" y1="485.88" x2="400.54" y2="485.88" stroke="#777" stroke-width="0.5"/>
<path d="M397.84 487.01L400.84 487.01M399.34 485.51L399.34 488.51" stroke="#2f6db2" stroke-width="0.9"/>
<line x1="430.12" y1="482.02" x2="430.12" y2="484.29" stroke="#777" stroke-width="0.6"/>
<line x1="428.92" y1="482.02" x2="431.32" y2="482.02" stroke="#777" stroke-width="0.5"/>
<path d="M428.62 483.15L431.62 483.15M430.12 481.65L430.12 484.65" stroke="#2f6db2" stroke-width="0.9"/>
<line x1="460.90" y1="483.15" x2="460.90" y2="485.42" stroke="#777" stroke-width="0.6"/>
<line x1="459.70" y1="483.15" x2="462.10" y2="483.15" stroke="#777" stroke-width="0.5"/>
<path d="M459.40 484.29L462.40 484.29M460.90 482.79L460.90 485.79" stroke="#2f6db2" stroke-width="0.9"/>
<line x1="307.00" y1="402.10" x2="461.40" y2="402.10" stroke="#666" stroke-width="1.0"/>
<line x1="461.40" y1="402.10" x2="461.40" y2="515.60" stroke="#555" stroke-width="1.0"/>
<line x1="307.00" y1="401.50" x2="307.00" y2="516.40" stroke="#222" stroke-width="1.5"/>
<line x1="307.00" y1="515.60" x2="461.40" y2="515.60" stroke="#222" stroke-width="1.4"/>
<line x1="304.50" y1="515.50" x2="307.00" y2="515.50" stroke="#111" stroke-width="0.8"/>
<text transform="translate(298.20,517.10) scale(0.9,1)" font-size="10.6" text-anchor="end" font-weight="normal" font-style="normal" fill="#111" >0</text>
<line x1="304.50" y1="487.12" x2="307.00" y2="487.12" stroke="#111" stroke-width="0.8"/>
<text transform="translate(304.20,490.90) scale(0.9,1)" font-size="10.6" text-anchor="end" font-weight="normal" font-style="normal" fill="#111" >250</text>
<line x1="304.50" y1="458.75" x2="307.00" y2="458.75" stroke="#111" stroke-width="0.8"/>
<text transform="translate(304.20,463.50) scale(0.9,1)" font-size="10.6" text-anchor="end" font-weight="normal" font-style="normal" fill="#111" >500</text>
<line x1="304.50" y1="430.38" x2="307.00" y2="430.38" stroke="#111" stroke-width="0.8"/>
<text transform="translate(304.20,436.30) scale(0.9,1)" font-size="10.6" text-anchor="end" font-weight="normal" font-style="normal" fill="#111" >750</text>
<line x1="304.50" y1="402.00" x2="307.00" y2="402.00" stroke="#111" stroke-width="0.8"/>
<text transform="translate(304.40,410.20) scale(0.9,1)" font-size="10.6" text-anchor="end" font-weight="normal" font-style="normal" fill="#111" >1000</text>
<text x="307.00" y="528.00" font-size="9.8" text-anchor="middle" font-weight="normal" font-style="normal" fill="#111" >0</text>
<line x1="307.00" y1="515.50" x2="307.00" y2="518.00" stroke="#111" stroke-width="0.8"/>
<text x="336.58" y="528.00" font-size="9.8" text-anchor="middle" font-weight="normal" font-style="normal" fill="#111" >12</text>
<line x1="337.78" y1="515.50" x2="337.78" y2="518.00" stroke="#111" stroke-width="0.8"/>
<text x="368.56" y="528.00" font-size="9.8" text-anchor="middle" font-weight="normal" font-style="normal" fill="#111" >24</text>
<line x1="368.56" y1="515.50" x2="368.56" y2="518.00" stroke="#111" stroke-width="0.8"/>
<text x="399.34" y="528.00" font-size="9.8" text-anchor="middle" font-weight="normal" font-style="normal" fill="#111" >36</text>
<line x1="399.34" y1="515.50" x2="399.34" y2="518.00" stroke="#111" stroke-width="0.8"/>
<text x="430.12" y="528.00" font-size="9.8" text-anchor="middle" font-weight="normal" font-style="normal" fill="#111" >48</text>
<line x1="430.12" y1="515.50" x2="430.12" y2="518.00" stroke="#111" stroke-width="0.8"/>
<text x="460.90" y="528.00" font-size="9.8" text-anchor="middle" font-weight="normal" font-style="normal" fill="#111" >60</text>
<line x1="460.90" y1="515.50" x2="460.90" y2="518.00" stroke="#111" stroke-width="0.8"/>
<text x="384.00" y="543.20" font-size="11.1" text-anchor="middle" font-weight="normal" font-style="normal" fill="#111" >Time (h)</text>
<text transform="translate(261.8,461.8) rotate(-90)" font-size="13.4" text-anchor="middle" fill="#111">Proteolytic  acticity</text>
<text transform="translate(278.6,459.4) rotate(-90)" font-size="13.4" text-anchor="middle" fill="#111">(U/mL)</text>
<line x1="316.50" y1="410.20" x2="331.80" y2="410.20" stroke="#5b9bd5" stroke-width="1.4"/>
<path d="M324.20 407.90L326.50 410.20L324.20 412.50L321.90 410.20Z" fill="#5b9bd5"/>
<text x="337.3" y="413.20" font-size="8.4" fill="#333">P<tspan font-size="6.2" dy="1.3" fill="#444">aprE</tspan></text>
<line x1="316.50" y1="419.87" x2="331.80" y2="419.87" stroke="#70ad47" stroke-width="1.4"/>
<circle cx="324.20" cy="419.87" r="2.0" fill="#70ad47"/>
<text x="337.3" y="422.87" font-size="8.4" fill="#333">P<tspan font-size="6.2" dy="1.3" fill="#444">0544</tspan></text>
<line x1="316.50" y1="429.54" x2="331.80" y2="429.54" stroke="#4472c4" stroke-width="1.4"/>
<path d="M322.20 427.54L326.20 431.54M326.20 427.54L322.20 431.54" stroke="#4472c4" stroke-width="0.9"/>
<text x="337.3" y="432.54" font-size="8.4" fill="#333">P<tspan font-size="6.2" dy="1.3" fill="#444">0812</tspan></text>
<line x1="316.50" y1="439.21" x2="331.80" y2="439.21" stroke="#a5a5a5" stroke-width="1.4"/>
<path d="M324.20 437.01L326.40 441.21L322.00 441.21Z" fill="#a5a5a5"/>
<text x="337.3" y="442.21" font-size="8.4" fill="#333">P<tspan font-size="6.2" dy="1.3" fill="#444">1073</tspan></text>
<line x1="316.50" y1="448.88" x2="331.80" y2="448.88" stroke="#ed7d31" stroke-width="1.4"/>
<rect x="322.20" y="446.88" width="4.00" height="4.00" fill="#ed7d31" />
<text x="337.3" y="451.88" font-size="8.4" fill="#333">P<tspan font-size="6.2" dy="1.3" fill="#444">1075</tspan></text>
<line x1="316.50" y1="458.55" x2="331.80" y2="458.55" stroke="#ffc000" stroke-width="1.4"/>
<path d="M322.20 456.55L326.20 460.55M326.20 456.55L322.20 460.55" stroke="#ffc000" stroke-width="0.9"/>
<text x="337.3" y="461.55" font-size="8.4" fill="#333">P<tspan font-size="6.2" dy="1.3" fill="#444">2069</tspan></text>
<line x1="316.50" y1="468.22" x2="331.80" y2="468.22" stroke="#2f6db2" stroke-width="1.4"/>
<path d="M322.20 468.22L326.20 468.22M324.20 466.22L324.20 470.22" stroke="#2f6db2" stroke-width="0.9"/>
<text x="337.3" y="471.22" font-size="8.4" fill="#333">P<tspan font-size="6.2" dy="1.3" fill="#444">2569</tspan></text>
</svg>
</body></html>
